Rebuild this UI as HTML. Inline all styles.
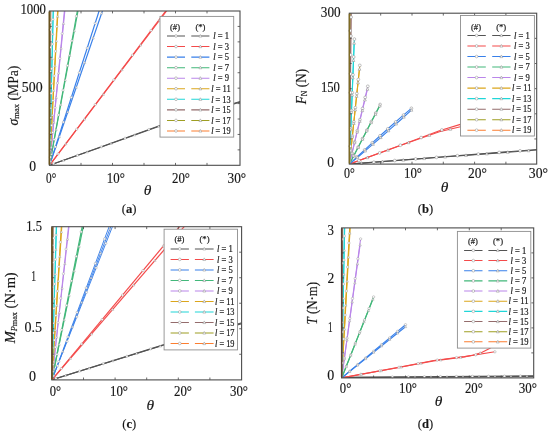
<!DOCTYPE html>
<html lang="en"><head><meta charset="utf-8"><title>Figure</title>
<style>html,body{margin:0;padding:0;background:#fff;}body{width:550px;height:436px;overflow:hidden;}svg text{font-family:'Liberation Serif','DejaVu Serif',serif;}</style>
</head><body>
<svg width="550" height="436" viewBox="0 0 550 436" style="display:block;font-family:'Liberation Serif','DejaVu Serif',serif">
<rect width="550" height="436" fill="#fff"/>
<clipPath id="ca"><rect x="49.40" y="11.00" width="190.60" height="154.30"/></clipPath>
<path d="M49.50 165.30L100.00 147.30L160.00 125.50L241.50 101.00" stroke="#545454" stroke-width="1.1" fill="none" stroke-linejoin="round" clip-path="url(#ca)"/>
<path d="M49.50 165.30L100.00 147.50L160.00 125.90L241.50 101.70" stroke="#545454" stroke-width="1.1" fill="none" stroke-linejoin="round" clip-path="url(#ca)"/>
<path d="M49.50 165.30L179.64 -7.52" stroke="#F44A4A" stroke-width="1.1" fill="none" stroke-linejoin="round" clip-path="url(#ca)"/>
<path d="M49.50 165.30L180.54 -7.52" stroke="#F44A4A" stroke-width="1.1" fill="none" stroke-linejoin="round" clip-path="url(#ca)"/>
<path d="M49.50 165.30L105.05 -7.52" stroke="#3880EA" stroke-width="1.2" fill="none" stroke-linejoin="round" clip-path="url(#ca)"/>
<path d="M49.50 165.30L108.75 -7.52" stroke="#3880EA" stroke-width="1.2" fill="none" stroke-linejoin="round" clip-path="url(#ca)"/>
<path d="M49.50 165.30L80.64 -7.52" stroke="#42B87A" stroke-width="1.1" fill="none" stroke-linejoin="round" clip-path="url(#ca)"/>
<path d="M49.50 165.30L81.42 -7.52" stroke="#42B87A" stroke-width="1.1" fill="none" stroke-linejoin="round" clip-path="url(#ca)"/>
<path d="M49.50 165.30L66.19 -7.52" stroke="#BA86EA" stroke-width="1.1" fill="none" stroke-linejoin="round" clip-path="url(#ca)"/>
<path d="M49.50 165.30L66.64 -7.52" stroke="#BA86EA" stroke-width="1.1" fill="none" stroke-linejoin="round" clip-path="url(#ca)"/>
<path d="M49.50 165.30L58.57 -7.52" stroke="#DCA61C" stroke-width="1.1" fill="none" stroke-linejoin="round" clip-path="url(#ca)"/>
<path d="M49.50 165.30L59.02 -7.52" stroke="#DCA61C" stroke-width="1.1" fill="none" stroke-linejoin="round" clip-path="url(#ca)"/>
<path d="M49.50 165.30L53.53 -7.52" stroke="#20D6D8" stroke-width="1.0" fill="none" stroke-linejoin="round" clip-path="url(#ca)"/>
<path d="M49.50 165.30L53.87 -7.52" stroke="#20D6D8" stroke-width="1.0" fill="none" stroke-linejoin="round" clip-path="url(#ca)"/>
<path d="M49.50 165.30L49.84 -7.52" stroke="#FC7E30" stroke-width="1.0" fill="none" stroke-linejoin="round" clip-path="url(#ca)"/>
<path d="M49.50 165.30L50.40 -7.52" stroke="#9E9E22" stroke-width="1.0" fill="none" stroke-linejoin="round" clip-path="url(#ca)"/>
<path d="M49.50 165.30L51.07 -7.52" stroke="#946C6C" stroke-width="0.8" fill="none" stroke-linejoin="round" clip-path="url(#ca)"/>
<circle cx="53.55" cy="163.85" r="1.15" fill="#fff" fill-opacity="0.95" stroke="#8a8a8a" stroke-opacity="0.8" stroke-width="0.45"/>
<circle cx="77.40" cy="155.35" r="1.15" fill="#fff" fill-opacity="0.95" stroke="#8a8a8a" stroke-opacity="0.8" stroke-width="0.45"/>
<circle cx="101.25" cy="146.85" r="1.15" fill="#fff" fill-opacity="0.95" stroke="#8a8a8a" stroke-opacity="0.8" stroke-width="0.45"/>
<circle cx="125.05" cy="138.20" r="1.15" fill="#fff" fill-opacity="0.95" stroke="#8a8a8a" stroke-opacity="0.8" stroke-width="0.45"/>
<circle cx="148.84" cy="129.55" r="1.15" fill="#fff" fill-opacity="0.95" stroke="#8a8a8a" stroke-opacity="0.8" stroke-width="0.45"/>
<circle cx="172.88" cy="121.63" r="1.15" fill="#fff" fill-opacity="0.95" stroke="#8a8a8a" stroke-opacity="0.8" stroke-width="0.45"/>
<circle cx="197.13" cy="114.34" r="1.15" fill="#fff" fill-opacity="0.95" stroke="#8a8a8a" stroke-opacity="0.8" stroke-width="0.45"/>
<circle cx="221.37" cy="107.05" r="1.15" fill="#fff" fill-opacity="0.95" stroke="#8a8a8a" stroke-opacity="0.8" stroke-width="0.45"/>
<path d="M63.33 159.16L64.48 161.34H62.18Z" fill="#fff" fill-opacity="0.95" stroke="#8a8a8a" stroke-opacity="0.8" stroke-width="0.45"/>
<path d="M87.19 150.75L88.34 152.94H86.04Z" fill="#fff" fill-opacity="0.95" stroke="#8a8a8a" stroke-opacity="0.8" stroke-width="0.45"/>
<path d="M111.01 142.27L112.16 144.45H109.86Z" fill="#fff" fill-opacity="0.95" stroke="#8a8a8a" stroke-opacity="0.8" stroke-width="0.45"/>
<path d="M134.81 133.70L135.96 135.89H133.66Z" fill="#fff" fill-opacity="0.95" stroke="#8a8a8a" stroke-opacity="0.8" stroke-width="0.45"/>
<path d="M158.61 125.14L159.76 127.32H157.46Z" fill="#fff" fill-opacity="0.95" stroke="#8a8a8a" stroke-opacity="0.8" stroke-width="0.45"/>
<path d="M182.83 117.86L183.98 120.04H181.68Z" fill="#fff" fill-opacity="0.95" stroke="#8a8a8a" stroke-opacity="0.8" stroke-width="0.45"/>
<path d="M207.07 110.66L208.22 112.84H205.92Z" fill="#fff" fill-opacity="0.95" stroke="#8a8a8a" stroke-opacity="0.8" stroke-width="0.45"/>
<path d="M231.32 103.46L232.47 105.64H230.17Z" fill="#fff" fill-opacity="0.95" stroke="#8a8a8a" stroke-opacity="0.8" stroke-width="0.45"/>
<circle cx="58.05" cy="153.94" r="1.15" fill="#fff" fill-opacity="0.95" stroke="#8a8a8a" stroke-opacity="0.8" stroke-width="0.45"/>
<circle cx="76.64" cy="129.26" r="1.15" fill="#fff" fill-opacity="0.95" stroke="#8a8a8a" stroke-opacity="0.8" stroke-width="0.45"/>
<circle cx="95.24" cy="104.57" r="1.15" fill="#fff" fill-opacity="0.95" stroke="#8a8a8a" stroke-opacity="0.8" stroke-width="0.45"/>
<circle cx="113.83" cy="79.88" r="1.15" fill="#fff" fill-opacity="0.95" stroke="#8a8a8a" stroke-opacity="0.8" stroke-width="0.45"/>
<circle cx="132.42" cy="55.19" r="1.15" fill="#fff" fill-opacity="0.95" stroke="#8a8a8a" stroke-opacity="0.8" stroke-width="0.45"/>
<circle cx="151.01" cy="30.50" r="1.15" fill="#fff" fill-opacity="0.95" stroke="#8a8a8a" stroke-opacity="0.8" stroke-width="0.45"/>
<path d="M65.79 142.56L66.94 144.74H64.64Z" fill="#fff" fill-opacity="0.95" stroke="#8a8a8a" stroke-opacity="0.8" stroke-width="0.45"/>
<path d="M84.51 117.87L85.66 120.05H83.36Z" fill="#fff" fill-opacity="0.95" stroke="#8a8a8a" stroke-opacity="0.8" stroke-width="0.45"/>
<path d="M103.23 93.18L104.38 95.37H102.08Z" fill="#fff" fill-opacity="0.95" stroke="#8a8a8a" stroke-opacity="0.8" stroke-width="0.45"/>
<path d="M121.95 68.49L123.10 70.68H120.80Z" fill="#fff" fill-opacity="0.95" stroke="#8a8a8a" stroke-opacity="0.8" stroke-width="0.45"/>
<path d="M140.67 43.80L141.82 45.99H139.52Z" fill="#fff" fill-opacity="0.95" stroke="#8a8a8a" stroke-opacity="0.8" stroke-width="0.45"/>
<path d="M159.39 19.12L160.54 21.30H158.24Z" fill="#fff" fill-opacity="0.95" stroke="#8a8a8a" stroke-opacity="0.8" stroke-width="0.45"/>
<circle cx="55.45" cy="146.78" r="1.15" fill="#fff" fill-opacity="0.95" stroke="#8a8a8a" stroke-opacity="0.8" stroke-width="0.45"/>
<circle cx="63.39" cy="122.10" r="1.15" fill="#fff" fill-opacity="0.95" stroke="#8a8a8a" stroke-opacity="0.8" stroke-width="0.45"/>
<circle cx="71.32" cy="97.41" r="1.15" fill="#fff" fill-opacity="0.95" stroke="#8a8a8a" stroke-opacity="0.8" stroke-width="0.45"/>
<circle cx="79.26" cy="72.72" r="1.15" fill="#fff" fill-opacity="0.95" stroke="#8a8a8a" stroke-opacity="0.8" stroke-width="0.45"/>
<circle cx="87.20" cy="48.03" r="1.15" fill="#fff" fill-opacity="0.95" stroke="#8a8a8a" stroke-opacity="0.8" stroke-width="0.45"/>
<circle cx="95.13" cy="23.34" r="1.15" fill="#fff" fill-opacity="0.95" stroke="#8a8a8a" stroke-opacity="0.8" stroke-width="0.45"/>
<path d="M50.85 160.08L52.00 162.27H49.70Z" fill="#fff" fill-opacity="0.95" stroke="#8a8a8a" stroke-opacity="0.8" stroke-width="0.45"/>
<path d="M59.32 135.40L60.47 137.58H58.17Z" fill="#fff" fill-opacity="0.95" stroke="#8a8a8a" stroke-opacity="0.8" stroke-width="0.45"/>
<path d="M67.78 110.71L68.93 112.89H66.63Z" fill="#fff" fill-opacity="0.95" stroke="#8a8a8a" stroke-opacity="0.8" stroke-width="0.45"/>
<path d="M76.25 86.02L77.40 88.21H75.10Z" fill="#fff" fill-opacity="0.95" stroke="#8a8a8a" stroke-opacity="0.8" stroke-width="0.45"/>
<path d="M84.71 61.33L85.86 63.52H83.56Z" fill="#fff" fill-opacity="0.95" stroke="#8a8a8a" stroke-opacity="0.8" stroke-width="0.45"/>
<path d="M93.17 36.64L94.32 38.83H92.02Z" fill="#fff" fill-opacity="0.95" stroke="#8a8a8a" stroke-opacity="0.8" stroke-width="0.45"/>
<path d="M101.64 11.96L102.79 14.14H100.49Z" fill="#fff" fill-opacity="0.95" stroke="#8a8a8a" stroke-opacity="0.8" stroke-width="0.45"/>
<circle cx="54.13" cy="139.62" r="1.15" fill="#fff" fill-opacity="0.95" stroke="#8a8a8a" stroke-opacity="0.8" stroke-width="0.45"/>
<circle cx="58.57" cy="114.94" r="1.15" fill="#fff" fill-opacity="0.95" stroke="#8a8a8a" stroke-opacity="0.8" stroke-width="0.45"/>
<circle cx="63.02" cy="90.25" r="1.15" fill="#fff" fill-opacity="0.95" stroke="#8a8a8a" stroke-opacity="0.8" stroke-width="0.45"/>
<circle cx="67.47" cy="65.56" r="1.15" fill="#fff" fill-opacity="0.95" stroke="#8a8a8a" stroke-opacity="0.8" stroke-width="0.45"/>
<circle cx="71.92" cy="40.87" r="1.15" fill="#fff" fill-opacity="0.95" stroke="#8a8a8a" stroke-opacity="0.8" stroke-width="0.45"/>
<circle cx="76.37" cy="16.18" r="1.15" fill="#fff" fill-opacity="0.95" stroke="#8a8a8a" stroke-opacity="0.8" stroke-width="0.45"/>
<path d="M51.55 152.93L52.70 155.11H50.40Z" fill="#fff" fill-opacity="0.95" stroke="#8a8a8a" stroke-opacity="0.8" stroke-width="0.45"/>
<path d="M56.11 128.24L57.26 130.42H54.96Z" fill="#fff" fill-opacity="0.95" stroke="#8a8a8a" stroke-opacity="0.8" stroke-width="0.45"/>
<path d="M60.67 103.55L61.82 105.73H59.52Z" fill="#fff" fill-opacity="0.95" stroke="#8a8a8a" stroke-opacity="0.8" stroke-width="0.45"/>
<path d="M65.23 78.86L66.38 81.05H64.08Z" fill="#fff" fill-opacity="0.95" stroke="#8a8a8a" stroke-opacity="0.8" stroke-width="0.45"/>
<path d="M69.79 54.17L70.94 56.36H68.64Z" fill="#fff" fill-opacity="0.95" stroke="#8a8a8a" stroke-opacity="0.8" stroke-width="0.45"/>
<path d="M74.35 29.49L75.50 31.67H73.20Z" fill="#fff" fill-opacity="0.95" stroke="#8a8a8a" stroke-opacity="0.8" stroke-width="0.45"/>
<circle cx="50.29" cy="157.15" r="1.15" fill="#fff" fill-opacity="0.95" stroke="#8a8a8a" stroke-opacity="0.8" stroke-width="0.45"/>
<circle cx="52.67" cy="132.46" r="1.15" fill="#fff" fill-opacity="0.95" stroke="#8a8a8a" stroke-opacity="0.8" stroke-width="0.45"/>
<circle cx="55.05" cy="107.78" r="1.15" fill="#fff" fill-opacity="0.95" stroke="#8a8a8a" stroke-opacity="0.8" stroke-width="0.45"/>
<circle cx="57.44" cy="83.09" r="1.15" fill="#fff" fill-opacity="0.95" stroke="#8a8a8a" stroke-opacity="0.8" stroke-width="0.45"/>
<circle cx="59.82" cy="58.40" r="1.15" fill="#fff" fill-opacity="0.95" stroke="#8a8a8a" stroke-opacity="0.8" stroke-width="0.45"/>
<circle cx="62.21" cy="33.71" r="1.15" fill="#fff" fill-opacity="0.95" stroke="#8a8a8a" stroke-opacity="0.8" stroke-width="0.45"/>
<path d="M51.31 145.77L52.46 147.95H50.16Z" fill="#fff" fill-opacity="0.95" stroke="#8a8a8a" stroke-opacity="0.8" stroke-width="0.45"/>
<path d="M53.76 121.08L54.91 123.26H52.61Z" fill="#fff" fill-opacity="0.95" stroke="#8a8a8a" stroke-opacity="0.8" stroke-width="0.45"/>
<path d="M56.21 96.39L57.36 98.57H55.06Z" fill="#fff" fill-opacity="0.95" stroke="#8a8a8a" stroke-opacity="0.8" stroke-width="0.45"/>
<path d="M58.66 71.70L59.81 73.89H57.51Z" fill="#fff" fill-opacity="0.95" stroke="#8a8a8a" stroke-opacity="0.8" stroke-width="0.45"/>
<path d="M61.10 47.01L62.25 49.20H59.95Z" fill="#fff" fill-opacity="0.95" stroke="#8a8a8a" stroke-opacity="0.8" stroke-width="0.45"/>
<path d="M63.55 22.33L64.70 24.51H62.40Z" fill="#fff" fill-opacity="0.95" stroke="#8a8a8a" stroke-opacity="0.8" stroke-width="0.45"/>
<circle cx="50.30" cy="149.99" r="1.15" fill="#fff" fill-opacity="0.95" stroke="#8a8a8a" stroke-opacity="0.8" stroke-width="0.45"/>
<circle cx="51.60" cy="125.31" r="1.15" fill="#fff" fill-opacity="0.95" stroke="#8a8a8a" stroke-opacity="0.8" stroke-width="0.45"/>
<circle cx="52.90" cy="100.62" r="1.15" fill="#fff" fill-opacity="0.95" stroke="#8a8a8a" stroke-opacity="0.8" stroke-width="0.45"/>
<circle cx="54.19" cy="75.93" r="1.15" fill="#fff" fill-opacity="0.95" stroke="#8a8a8a" stroke-opacity="0.8" stroke-width="0.45"/>
<circle cx="55.49" cy="51.24" r="1.15" fill="#fff" fill-opacity="0.95" stroke="#8a8a8a" stroke-opacity="0.8" stroke-width="0.45"/>
<circle cx="56.78" cy="26.55" r="1.15" fill="#fff" fill-opacity="0.95" stroke="#8a8a8a" stroke-opacity="0.8" stroke-width="0.45"/>
<path d="M50.90 138.61L52.05 140.79H49.75Z" fill="#fff" fill-opacity="0.95" stroke="#8a8a8a" stroke-opacity="0.8" stroke-width="0.45"/>
<path d="M52.26 113.92L53.41 116.10H51.11Z" fill="#fff" fill-opacity="0.95" stroke="#8a8a8a" stroke-opacity="0.8" stroke-width="0.45"/>
<path d="M53.62 89.23L54.77 91.42H52.47Z" fill="#fff" fill-opacity="0.95" stroke="#8a8a8a" stroke-opacity="0.8" stroke-width="0.45"/>
<path d="M54.98 64.54L56.13 66.73H53.83Z" fill="#fff" fill-opacity="0.95" stroke="#8a8a8a" stroke-opacity="0.8" stroke-width="0.45"/>
<path d="M56.34 39.85L57.49 42.04H55.19Z" fill="#fff" fill-opacity="0.95" stroke="#8a8a8a" stroke-opacity="0.8" stroke-width="0.45"/>
<path d="M57.70 15.17L58.85 17.35H56.55Z" fill="#fff" fill-opacity="0.95" stroke="#8a8a8a" stroke-opacity="0.8" stroke-width="0.45"/>
<circle cx="50.60" cy="118.15" r="1.15" fill="#fff" fill-opacity="0.95" stroke="#8a8a8a" stroke-opacity="0.8" stroke-width="0.45"/>
<circle cx="51.18" cy="93.46" r="1.15" fill="#fff" fill-opacity="0.95" stroke="#8a8a8a" stroke-opacity="0.8" stroke-width="0.45"/>
<circle cx="51.75" cy="68.77" r="1.15" fill="#fff" fill-opacity="0.95" stroke="#8a8a8a" stroke-opacity="0.8" stroke-width="0.45"/>
<circle cx="52.33" cy="44.08" r="1.15" fill="#fff" fill-opacity="0.95" stroke="#8a8a8a" stroke-opacity="0.8" stroke-width="0.45"/>
<circle cx="52.90" cy="19.39" r="1.15" fill="#fff" fill-opacity="0.95" stroke="#8a8a8a" stroke-opacity="0.8" stroke-width="0.45"/>
<path d="M50.32 131.45L51.47 133.63H49.17Z" fill="#fff" fill-opacity="0.95" stroke="#8a8a8a" stroke-opacity="0.8" stroke-width="0.45"/>
<path d="M50.95 106.76L52.10 108.94H49.80Z" fill="#fff" fill-opacity="0.95" stroke="#8a8a8a" stroke-opacity="0.8" stroke-width="0.45"/>
<path d="M51.57 82.07L52.72 84.26H50.42Z" fill="#fff" fill-opacity="0.95" stroke="#8a8a8a" stroke-opacity="0.8" stroke-width="0.45"/>
<path d="M52.20 57.38L53.35 59.57H51.05Z" fill="#fff" fill-opacity="0.95" stroke="#8a8a8a" stroke-opacity="0.8" stroke-width="0.45"/>
<path d="M52.82 32.69L53.97 34.88H51.67Z" fill="#fff" fill-opacity="0.95" stroke="#8a8a8a" stroke-opacity="0.8" stroke-width="0.45"/>
<circle cx="50.20" cy="29.76" r="1.15" fill="#fff" fill-opacity="0.95" stroke="#8a8a8a" stroke-opacity="0.8" stroke-width="0.45"/>
<circle cx="50.35" cy="71.98" r="1.15" fill="#fff" fill-opacity="0.95" stroke="#8a8a8a" stroke-opacity="0.8" stroke-width="0.45"/>
<circle cx="50.57" cy="47.29" r="1.15" fill="#fff" fill-opacity="0.95" stroke="#8a8a8a" stroke-opacity="0.8" stroke-width="0.45"/>
<circle cx="50.79" cy="22.60" r="1.15" fill="#fff" fill-opacity="0.95" stroke="#8a8a8a" stroke-opacity="0.8" stroke-width="0.45"/>
<path d="M81.00 165.30v-2.4M81.00 11.00v2.4M112.50 165.30v-2.4M112.50 11.00v2.4M144.00 165.30v-2.4M144.00 11.00v2.4M175.50 165.30v-2.4M175.50 11.00v2.4M207.00 165.30v-2.4M207.00 11.00v2.4M49.40 149.87h2.4M240.00 149.87h-2.4M49.40 134.44h2.4M240.00 134.44h-2.4M49.40 119.01h2.4M240.00 119.01h-2.4M49.40 103.58h2.4M240.00 103.58h-2.4M49.40 88.15h2.4M240.00 88.15h-2.4M49.40 72.72h2.4M240.00 72.72h-2.4M49.40 57.29h2.4M240.00 57.29h-2.4M49.40 41.86h2.4M240.00 41.86h-2.4M49.40 26.43h2.4M240.00 26.43h-2.4" stroke="#444" stroke-width="0.8" fill="none"/>
<rect x="49.40" y="11.00" width="190.60" height="154.30" fill="none" stroke="#4c4c4c" stroke-width="1.1"/>
<path d="M49.3 11.60V164.70" stroke="#6c5218" stroke-width="1.5" stroke-opacity="0.9"/>
<rect x="160.00" y="16.40" width="73.70" height="120.70" fill="#fff" stroke="#8e8e8e" stroke-width="0.9"/>
<text x="175.00" y="29.50" font-size="8.6" fill="#222" text-anchor="middle" stroke="#222" stroke-width="0.2">(#)</text>
<text x="200.40" y="29.50" font-size="8.6" fill="#222" text-anchor="middle" stroke="#222" stroke-width="0.2">(*)</text>
<path d="M167.00 36.00H185.00M191.30 36.00H209.40" stroke="#545454" stroke-width="1.05" fill="none"/>
<circle cx="176.00" cy="36.00" r="1.35" fill="#fff" fill-opacity="1.0" stroke="#8a8a8a" stroke-opacity="0.9" stroke-width="0.55"/>
<path d="M200.35 34.46L201.75 37.12H198.95Z" fill="#fff" fill-opacity="1.0" stroke="#8a8a8a" stroke-opacity="0.9" stroke-width="0.55"/>
<text x="213.20" y="39.20" font-size="10.2" fill="#1c1c1c" stroke="#1c1c1c" stroke-width="0.22" textLength="15.8" lengthAdjust="spacingAndGlyphs"><tspan font-style="italic">l</tspan> = 1</text>
<path d="M167.00 46.55H185.00M191.30 46.55H209.40" stroke="#F44A4A" stroke-width="1.05" fill="none"/>
<circle cx="176.00" cy="46.55" r="1.35" fill="#fff" fill-opacity="1.0" stroke="#8a8a8a" stroke-opacity="0.9" stroke-width="0.55"/>
<path d="M200.35 45.01L201.75 47.67H198.95Z" fill="#fff" fill-opacity="1.0" stroke="#8a8a8a" stroke-opacity="0.9" stroke-width="0.55"/>
<text x="213.20" y="49.75" font-size="10.2" fill="#1c1c1c" stroke="#1c1c1c" stroke-width="0.22" textLength="15.8" lengthAdjust="spacingAndGlyphs"><tspan font-style="italic">l</tspan> = 3</text>
<path d="M167.00 57.10H185.00M191.30 57.10H209.40" stroke="#3880EA" stroke-width="1.05" fill="none"/>
<circle cx="176.00" cy="57.10" r="1.35" fill="#fff" fill-opacity="1.0" stroke="#8a8a8a" stroke-opacity="0.9" stroke-width="0.55"/>
<path d="M200.35 55.56L201.75 58.22H198.95Z" fill="#fff" fill-opacity="1.0" stroke="#8a8a8a" stroke-opacity="0.9" stroke-width="0.55"/>
<text x="213.20" y="60.30" font-size="10.2" fill="#1c1c1c" stroke="#1c1c1c" stroke-width="0.22" textLength="15.8" lengthAdjust="spacingAndGlyphs"><tspan font-style="italic">l</tspan> = 5</text>
<path d="M167.00 67.65H185.00M191.30 67.65H209.40" stroke="#42B87A" stroke-width="1.05" fill="none"/>
<circle cx="176.00" cy="67.65" r="1.35" fill="#fff" fill-opacity="1.0" stroke="#8a8a8a" stroke-opacity="0.9" stroke-width="0.55"/>
<path d="M200.35 66.11L201.75 68.77H198.95Z" fill="#fff" fill-opacity="1.0" stroke="#8a8a8a" stroke-opacity="0.9" stroke-width="0.55"/>
<text x="213.20" y="70.85" font-size="10.2" fill="#1c1c1c" stroke="#1c1c1c" stroke-width="0.22" textLength="15.8" lengthAdjust="spacingAndGlyphs"><tspan font-style="italic">l</tspan> = 7</text>
<path d="M167.00 78.20H185.00M191.30 78.20H209.40" stroke="#BA86EA" stroke-width="1.05" fill="none"/>
<circle cx="176.00" cy="78.20" r="1.35" fill="#fff" fill-opacity="1.0" stroke="#8a8a8a" stroke-opacity="0.9" stroke-width="0.55"/>
<path d="M200.35 76.66L201.75 79.32H198.95Z" fill="#fff" fill-opacity="1.0" stroke="#8a8a8a" stroke-opacity="0.9" stroke-width="0.55"/>
<text x="213.20" y="81.40" font-size="10.2" fill="#1c1c1c" stroke="#1c1c1c" stroke-width="0.22" textLength="15.8" lengthAdjust="spacingAndGlyphs"><tspan font-style="italic">l</tspan> = 9</text>
<path d="M167.00 88.75H185.00M191.30 88.75H209.40" stroke="#DCA61C" stroke-width="1.05" fill="none"/>
<circle cx="176.00" cy="88.75" r="1.35" fill="#fff" fill-opacity="1.0" stroke="#8a8a8a" stroke-opacity="0.9" stroke-width="0.55"/>
<path d="M200.35 87.21L201.75 89.87H198.95Z" fill="#fff" fill-opacity="1.0" stroke="#8a8a8a" stroke-opacity="0.9" stroke-width="0.55"/>
<text x="211.20" y="91.95" font-size="10.2" fill="#1c1c1c" stroke="#1c1c1c" stroke-width="0.22" textLength="19.5" lengthAdjust="spacingAndGlyphs"><tspan font-style="italic">l</tspan> = 11</text>
<path d="M167.00 99.30H185.00M191.30 99.30H209.40" stroke="#20D6D8" stroke-width="1.05" fill="none"/>
<circle cx="176.00" cy="99.30" r="1.35" fill="#fff" fill-opacity="1.0" stroke="#8a8a8a" stroke-opacity="0.9" stroke-width="0.55"/>
<path d="M200.35 97.76L201.75 100.42H198.95Z" fill="#fff" fill-opacity="1.0" stroke="#8a8a8a" stroke-opacity="0.9" stroke-width="0.55"/>
<text x="211.20" y="102.50" font-size="10.2" fill="#1c1c1c" stroke="#1c1c1c" stroke-width="0.22" textLength="19.5" lengthAdjust="spacingAndGlyphs"><tspan font-style="italic">l</tspan> = 13</text>
<path d="M167.00 109.85H185.00M191.30 109.85H209.40" stroke="#946C6C" stroke-width="1.05" fill="none"/>
<circle cx="176.00" cy="109.85" r="1.35" fill="#fff" fill-opacity="1.0" stroke="#8a8a8a" stroke-opacity="0.9" stroke-width="0.55"/>
<path d="M200.35 108.31L201.75 110.97H198.95Z" fill="#fff" fill-opacity="1.0" stroke="#8a8a8a" stroke-opacity="0.9" stroke-width="0.55"/>
<text x="211.20" y="113.05" font-size="10.2" fill="#1c1c1c" stroke="#1c1c1c" stroke-width="0.22" textLength="19.5" lengthAdjust="spacingAndGlyphs"><tspan font-style="italic">l</tspan> = 15</text>
<path d="M167.00 120.40H185.00M191.30 120.40H209.40" stroke="#9E9E22" stroke-width="1.05" fill="none"/>
<circle cx="176.00" cy="120.40" r="1.35" fill="#fff" fill-opacity="1.0" stroke="#8a8a8a" stroke-opacity="0.9" stroke-width="0.55"/>
<path d="M200.35 118.86L201.75 121.52H198.95Z" fill="#fff" fill-opacity="1.0" stroke="#8a8a8a" stroke-opacity="0.9" stroke-width="0.55"/>
<text x="211.20" y="123.60" font-size="10.2" fill="#1c1c1c" stroke="#1c1c1c" stroke-width="0.22" textLength="19.5" lengthAdjust="spacingAndGlyphs"><tspan font-style="italic">l</tspan> = 17</text>
<path d="M167.00 130.95H185.00M191.30 130.95H209.40" stroke="#FC7E30" stroke-width="1.05" fill="none"/>
<circle cx="176.00" cy="130.95" r="1.35" fill="#fff" fill-opacity="1.0" stroke="#8a8a8a" stroke-opacity="0.9" stroke-width="0.55"/>
<path d="M200.35 129.41L201.75 132.07H198.95Z" fill="#fff" fill-opacity="1.0" stroke="#8a8a8a" stroke-opacity="0.9" stroke-width="0.55"/>
<text x="211.20" y="134.15" font-size="10.2" fill="#1c1c1c" stroke="#1c1c1c" stroke-width="0.22" textLength="19.5" lengthAdjust="spacingAndGlyphs"><tspan font-style="italic">l</tspan> = 19</text>
<text x="20.40" y="14.00" font-size="14" fill="#161616" textLength="25.50" lengthAdjust="spacingAndGlyphs" stroke="#161616" stroke-width="0.15">1000</text>
<text x="21.80" y="91.80" font-size="14" fill="#161616" textLength="20.80" lengthAdjust="spacingAndGlyphs" stroke="#161616" stroke-width="0.15">500</text>
<text x="29.30" y="171.00" font-size="14" fill="#161616" textLength="6.80" lengthAdjust="spacingAndGlyphs" stroke="#161616" stroke-width="0.15">0</text>
<text x="46.00" y="182.60" font-size="14" fill="#161616" textLength="10.20" lengthAdjust="spacingAndGlyphs" stroke="#161616" stroke-width="0.15">0°</text>
<text x="106.80" y="182.60" font-size="14" fill="#161616" textLength="18.00" lengthAdjust="spacingAndGlyphs" stroke="#161616" stroke-width="0.15">10°</text>
<text x="172.00" y="182.60" font-size="14" fill="#161616" textLength="18.00" lengthAdjust="spacingAndGlyphs" stroke="#161616" stroke-width="0.15">20°</text>
<text x="227.60" y="182.60" font-size="14" fill="#161616" textLength="18.60" lengthAdjust="spacingAndGlyphs" stroke="#161616" stroke-width="0.15">30°</text>
<text x="17.8" y="125.6" font-size="14" fill="#161616" stroke="#161616" stroke-width="0.15" transform="rotate(-90 17.8 125.6)" textLength="60" lengthAdjust="spacingAndGlyphs"><tspan font-style="italic">σ</tspan><tspan font-size="9" dy="1.4">max</tspan><tspan dy="-1.4"> (MPa)</tspan></text>
<text x="147.50" y="194.50" font-size="15.5" fill="#161616" text-anchor="middle" font-style="italic" stroke="#161616" stroke-width="0.15">θ</text>
<text x="129.10" y="212.80" font-size="12.6" fill="#161616" text-anchor="middle" stroke="#161616" stroke-width="0.12">(<tspan font-weight="bold">a</tspan>)</text>
<clipPath id="cb"><rect x="349.30" y="13.20" width="187.40" height="150.90"/></clipPath>
<path d="M349.40 164.10L380.73 161.67L412.07 159.23L443.40 156.80L474.73 154.37L506.07 151.93L537.40 149.50" stroke="#545454" stroke-width="1.15" fill="none" stroke-linejoin="round" clip-path="url(#cb)"/>
<path d="M349.40 164.10L380.73 161.75L412.07 159.40L443.40 157.05L474.73 154.70L506.07 152.35L537.40 150.00" stroke="#545454" stroke-width="1.15" fill="none" stroke-linejoin="round" clip-path="url(#cb)"/>
<path d="M349.40 164.10L409.40 141.90L439.40 130.70L460.40 124.40L474.40 120.10" stroke="#F44A4A" stroke-width="1.1" fill="none" stroke-linejoin="round" clip-path="url(#cb)"/>
<path d="M349.40 164.10L409.40 142.30L439.40 131.70L460.40 126.80L474.40 123.60" stroke="#F44A4A" stroke-width="1.1" fill="none" stroke-linejoin="round" clip-path="url(#cb)"/>
<path d="M349.40 164.10L359.73 154.41L370.07 144.88L380.40 135.50L390.73 126.28L401.07 117.21L411.40 108.30" stroke="#3880EA" stroke-width="1.1" fill="none" stroke-linejoin="round" clip-path="url(#cb)"/>
<path d="M349.40 164.10L359.73 155.47L370.07 146.70L380.40 137.78L390.73 128.70L401.07 119.47L411.40 110.10" stroke="#3880EA" stroke-width="1.1" fill="none" stroke-linejoin="round" clip-path="url(#cb)"/>
<path d="M349.40 164.10L354.52 154.17L359.63 144.23L364.75 134.30L369.87 124.37L374.98 114.43L380.10 104.50" stroke="#42B87A" stroke-width="1.1" fill="none" stroke-linejoin="round" clip-path="url(#cb)"/>
<path d="M349.40 164.10L354.47 154.40L359.53 144.70L364.60 135.00L369.67 125.30L374.73 115.60L379.80 105.90" stroke="#42B87A" stroke-width="1.1" fill="none" stroke-linejoin="round" clip-path="url(#cb)"/>
<path d="M349.40 164.10L352.47 151.13L355.53 138.17L358.60 125.20L361.67 112.23L364.73 99.27L367.80 86.30" stroke="#BA86EA" stroke-width="1.1" fill="none" stroke-linejoin="round" clip-path="url(#cb)"/>
<path d="M349.40 164.10L352.42 151.60L355.43 139.10L358.45 126.60L361.47 114.10L364.48 101.60L367.50 89.10" stroke="#BA86EA" stroke-width="1.1" fill="none" stroke-linejoin="round" clip-path="url(#cb)"/>
<path d="M349.40 164.10L351.13 147.65L352.87 131.20L354.60 114.75L356.33 98.30L358.07 81.85L359.80 65.40" stroke="#DCA61C" stroke-width="1.1" fill="none" stroke-linejoin="round" clip-path="url(#cb)"/>
<path d="M349.40 164.10L351.08 148.27L352.77 132.43L354.45 116.60L356.13 100.77L357.82 84.93L359.50 69.10" stroke="#DCA61C" stroke-width="1.1" fill="none" stroke-linejoin="round" clip-path="url(#cb)"/>
<path d="M349.40 164.10L350.23 143.27L351.07 122.43L351.90 101.60L352.73 80.77L353.57 59.93L354.40 39.10" stroke="#20D6D8" stroke-width="1.1" fill="none" stroke-linejoin="round" clip-path="url(#cb)"/>
<path d="M349.40 164.10L350.18 143.93L350.97 123.77L351.75 103.60L352.53 83.43L353.32 63.27L354.10 43.10" stroke="#20D6D8" stroke-width="1.1" fill="none" stroke-linejoin="round" clip-path="url(#cb)"/>
<path d="M349.40 164.10L349.45 135.77L349.50 107.43L349.55 79.10L349.60 50.77L349.65 22.43L349.70 -5.90" stroke="#FC7E30" stroke-width="1.0" fill="none" stroke-linejoin="round" clip-path="url(#cb)"/>
<path d="M349.40 164.10L349.55 135.77L349.70 107.43L349.85 79.10L350.00 50.77L350.15 22.43L350.30 -5.90" stroke="#9E9E22" stroke-width="1.2" fill="none" stroke-linejoin="round" clip-path="url(#cb)"/>
<path d="M349.40 164.10L349.73 135.77L350.07 107.43L350.40 79.10L350.73 50.77L351.07 22.43L351.40 -5.90" stroke="#946C6C" stroke-width="1.3" fill="none" stroke-linejoin="round" clip-path="url(#cb)"/>
<circle cx="373.84" cy="162.20" r="1.4" fill="#fff" fill-opacity="1.0" stroke="#8a8a8a" stroke-opacity="0.95" stroke-width="0.55"/>
<circle cx="394.73" cy="160.58" r="1.4" fill="#fff" fill-opacity="1.0" stroke="#8a8a8a" stroke-opacity="0.95" stroke-width="0.55"/>
<circle cx="415.62" cy="158.96" r="1.4" fill="#fff" fill-opacity="1.0" stroke="#8a8a8a" stroke-opacity="0.95" stroke-width="0.55"/>
<circle cx="436.51" cy="157.34" r="1.4" fill="#fff" fill-opacity="1.0" stroke="#8a8a8a" stroke-opacity="0.95" stroke-width="0.55"/>
<circle cx="457.40" cy="155.71" r="1.4" fill="#fff" fill-opacity="1.0" stroke="#8a8a8a" stroke-opacity="0.95" stroke-width="0.55"/>
<circle cx="478.28" cy="154.09" r="1.4" fill="#fff" fill-opacity="1.0" stroke="#8a8a8a" stroke-opacity="0.95" stroke-width="0.55"/>
<circle cx="499.17" cy="152.47" r="1.4" fill="#fff" fill-opacity="1.0" stroke="#8a8a8a" stroke-opacity="0.95" stroke-width="0.55"/>
<circle cx="520.06" cy="150.85" r="1.4" fill="#fff" fill-opacity="1.0" stroke="#8a8a8a" stroke-opacity="0.95" stroke-width="0.55"/>
<path d="M361.52 161.65L362.92 164.31H360.12Z" fill="#fff" fill-opacity="1.0" stroke="#8a8a8a" stroke-opacity="0.95" stroke-width="0.55"/>
<path d="M382.40 160.08L383.80 162.74H381.00Z" fill="#fff" fill-opacity="1.0" stroke="#8a8a8a" stroke-opacity="0.95" stroke-width="0.55"/>
<path d="M403.29 158.52L404.69 161.18H401.89Z" fill="#fff" fill-opacity="1.0" stroke="#8a8a8a" stroke-opacity="0.95" stroke-width="0.55"/>
<path d="M424.18 156.95L425.58 159.61H422.78Z" fill="#fff" fill-opacity="1.0" stroke="#8a8a8a" stroke-opacity="0.95" stroke-width="0.55"/>
<path d="M445.07 155.38L446.47 158.04H443.67Z" fill="#fff" fill-opacity="1.0" stroke="#8a8a8a" stroke-opacity="0.95" stroke-width="0.55"/>
<path d="M465.96 153.82L467.36 156.48H464.56Z" fill="#fff" fill-opacity="1.0" stroke="#8a8a8a" stroke-opacity="0.95" stroke-width="0.55"/>
<path d="M486.85 152.25L488.25 154.91H485.45Z" fill="#fff" fill-opacity="1.0" stroke="#8a8a8a" stroke-opacity="0.95" stroke-width="0.55"/>
<path d="M507.74 150.68L509.14 153.34H506.34Z" fill="#fff" fill-opacity="1.0" stroke="#8a8a8a" stroke-opacity="0.95" stroke-width="0.55"/>
<path d="M528.63 149.12L530.03 151.78H527.23Z" fill="#fff" fill-opacity="1.0" stroke="#8a8a8a" stroke-opacity="0.95" stroke-width="0.55"/>
<circle cx="358.93" cy="160.57" r="1.4" fill="#fff" fill-opacity="1.0" stroke="#8a8a8a" stroke-opacity="0.95" stroke-width="0.55"/>
<circle cx="379.65" cy="152.91" r="1.4" fill="#fff" fill-opacity="1.0" stroke="#8a8a8a" stroke-opacity="0.95" stroke-width="0.55"/>
<circle cx="400.38" cy="145.24" r="1.4" fill="#fff" fill-opacity="1.0" stroke="#8a8a8a" stroke-opacity="0.95" stroke-width="0.55"/>
<circle cx="421.08" cy="137.54" r="1.4" fill="#fff" fill-opacity="1.0" stroke="#8a8a8a" stroke-opacity="0.95" stroke-width="0.55"/>
<circle cx="441.84" cy="129.97" r="1.4" fill="#fff" fill-opacity="1.0" stroke="#8a8a8a" stroke-opacity="0.95" stroke-width="0.55"/>
<circle cx="462.99" cy="123.60" r="1.4" fill="#fff" fill-opacity="1.0" stroke="#8a8a8a" stroke-opacity="0.95" stroke-width="0.55"/>
<path d="M367.33 156.04L368.73 158.70H365.93Z" fill="#fff" fill-opacity="1.0" stroke="#8a8a8a" stroke-opacity="0.95" stroke-width="0.55"/>
<path d="M387.94 148.56L389.34 151.22H386.54Z" fill="#fff" fill-opacity="1.0" stroke="#8a8a8a" stroke-opacity="0.95" stroke-width="0.55"/>
<path d="M408.56 141.07L409.96 143.73H407.16Z" fill="#fff" fill-opacity="1.0" stroke="#8a8a8a" stroke-opacity="0.95" stroke-width="0.55"/>
<path d="M429.23 133.75L430.63 136.41H427.83Z" fill="#fff" fill-opacity="1.0" stroke="#8a8a8a" stroke-opacity="0.95" stroke-width="0.55"/>
<path d="M450.25 127.63L451.65 130.29H448.85Z" fill="#fff" fill-opacity="1.0" stroke="#8a8a8a" stroke-opacity="0.95" stroke-width="0.55"/>
<path d="M471.62 122.70L473.02 125.36H470.22Z" fill="#fff" fill-opacity="1.0" stroke="#8a8a8a" stroke-opacity="0.95" stroke-width="0.55"/>
<circle cx="357.01" cy="156.97" r="1.4" fill="#fff" fill-opacity="1.0" stroke="#8a8a8a" stroke-opacity="0.95" stroke-width="0.55"/>
<circle cx="364.65" cy="149.88" r="1.4" fill="#fff" fill-opacity="1.0" stroke="#8a8a8a" stroke-opacity="0.95" stroke-width="0.55"/>
<circle cx="372.33" cy="142.82" r="1.4" fill="#fff" fill-opacity="1.0" stroke="#8a8a8a" stroke-opacity="0.95" stroke-width="0.55"/>
<circle cx="380.05" cy="135.82" r="1.4" fill="#fff" fill-opacity="1.0" stroke="#8a8a8a" stroke-opacity="0.95" stroke-width="0.55"/>
<circle cx="387.83" cy="128.87" r="1.4" fill="#fff" fill-opacity="1.0" stroke="#8a8a8a" stroke-opacity="0.95" stroke-width="0.55"/>
<circle cx="395.65" cy="121.97" r="1.4" fill="#fff" fill-opacity="1.0" stroke="#8a8a8a" stroke-opacity="0.95" stroke-width="0.55"/>
<circle cx="403.50" cy="115.11" r="1.4" fill="#fff" fill-opacity="1.0" stroke="#8a8a8a" stroke-opacity="0.95" stroke-width="0.55"/>
<circle cx="411.40" cy="108.30" r="1.4" fill="#fff" fill-opacity="1.0" stroke="#8a8a8a" stroke-opacity="0.95" stroke-width="0.55"/>
<path d="M357.29 155.97L358.69 158.63H355.89Z" fill="#fff" fill-opacity="1.0" stroke="#8a8a8a" stroke-opacity="0.95" stroke-width="0.55"/>
<path d="M365.14 149.34L366.54 152.00H363.74Z" fill="#fff" fill-opacity="1.0" stroke="#8a8a8a" stroke-opacity="0.95" stroke-width="0.55"/>
<path d="M372.96 142.66L374.36 145.32H371.56Z" fill="#fff" fill-opacity="1.0" stroke="#8a8a8a" stroke-opacity="0.95" stroke-width="0.55"/>
<path d="M380.73 135.94L382.13 138.60H379.33Z" fill="#fff" fill-opacity="1.0" stroke="#8a8a8a" stroke-opacity="0.95" stroke-width="0.55"/>
<path d="M388.46 129.16L389.86 131.82H387.06Z" fill="#fff" fill-opacity="1.0" stroke="#8a8a8a" stroke-opacity="0.95" stroke-width="0.55"/>
<path d="M396.14 122.33L397.54 124.99H394.74Z" fill="#fff" fill-opacity="1.0" stroke="#8a8a8a" stroke-opacity="0.95" stroke-width="0.55"/>
<path d="M403.79 115.47L405.19 118.13H402.39Z" fill="#fff" fill-opacity="1.0" stroke="#8a8a8a" stroke-opacity="0.95" stroke-width="0.55"/>
<path d="M411.40 108.56L412.80 111.22H410.00Z" fill="#fff" fill-opacity="1.0" stroke="#8a8a8a" stroke-opacity="0.95" stroke-width="0.55"/>
<circle cx="353.79" cy="155.59" r="1.4" fill="#fff" fill-opacity="1.0" stroke="#8a8a8a" stroke-opacity="0.95" stroke-width="0.55"/>
<circle cx="358.17" cy="147.07" r="1.4" fill="#fff" fill-opacity="1.0" stroke="#8a8a8a" stroke-opacity="0.95" stroke-width="0.55"/>
<circle cx="362.56" cy="138.56" r="1.4" fill="#fff" fill-opacity="1.0" stroke="#8a8a8a" stroke-opacity="0.95" stroke-width="0.55"/>
<circle cx="366.94" cy="130.04" r="1.4" fill="#fff" fill-opacity="1.0" stroke="#8a8a8a" stroke-opacity="0.95" stroke-width="0.55"/>
<circle cx="371.33" cy="121.53" r="1.4" fill="#fff" fill-opacity="1.0" stroke="#8a8a8a" stroke-opacity="0.95" stroke-width="0.55"/>
<circle cx="375.71" cy="113.01" r="1.4" fill="#fff" fill-opacity="1.0" stroke="#8a8a8a" stroke-opacity="0.95" stroke-width="0.55"/>
<circle cx="380.10" cy="104.50" r="1.4" fill="#fff" fill-opacity="1.0" stroke="#8a8a8a" stroke-opacity="0.95" stroke-width="0.55"/>
<path d="M353.74 154.25L355.14 156.91H352.34Z" fill="#fff" fill-opacity="1.0" stroke="#8a8a8a" stroke-opacity="0.95" stroke-width="0.55"/>
<path d="M358.09 145.93L359.49 148.59H356.69Z" fill="#fff" fill-opacity="1.0" stroke="#8a8a8a" stroke-opacity="0.95" stroke-width="0.55"/>
<path d="M362.43 137.62L363.83 140.28H361.03Z" fill="#fff" fill-opacity="1.0" stroke="#8a8a8a" stroke-opacity="0.95" stroke-width="0.55"/>
<path d="M366.77 129.30L368.17 131.96H365.37Z" fill="#fff" fill-opacity="1.0" stroke="#8a8a8a" stroke-opacity="0.95" stroke-width="0.55"/>
<path d="M371.11 120.99L372.51 123.65H369.71Z" fill="#fff" fill-opacity="1.0" stroke="#8a8a8a" stroke-opacity="0.95" stroke-width="0.55"/>
<path d="M375.46 112.67L376.86 115.33H374.06Z" fill="#fff" fill-opacity="1.0" stroke="#8a8a8a" stroke-opacity="0.95" stroke-width="0.55"/>
<path d="M379.80 104.36L381.20 107.02H378.40Z" fill="#fff" fill-opacity="1.0" stroke="#8a8a8a" stroke-opacity="0.95" stroke-width="0.55"/>
<circle cx="352.03" cy="152.99" r="1.4" fill="#fff" fill-opacity="1.0" stroke="#8a8a8a" stroke-opacity="0.95" stroke-width="0.55"/>
<circle cx="354.66" cy="141.87" r="1.4" fill="#fff" fill-opacity="1.0" stroke="#8a8a8a" stroke-opacity="0.95" stroke-width="0.55"/>
<circle cx="357.29" cy="130.76" r="1.4" fill="#fff" fill-opacity="1.0" stroke="#8a8a8a" stroke-opacity="0.95" stroke-width="0.55"/>
<circle cx="359.91" cy="119.64" r="1.4" fill="#fff" fill-opacity="1.0" stroke="#8a8a8a" stroke-opacity="0.95" stroke-width="0.55"/>
<circle cx="362.54" cy="108.53" r="1.4" fill="#fff" fill-opacity="1.0" stroke="#8a8a8a" stroke-opacity="0.95" stroke-width="0.55"/>
<circle cx="365.17" cy="97.41" r="1.4" fill="#fff" fill-opacity="1.0" stroke="#8a8a8a" stroke-opacity="0.95" stroke-width="0.55"/>
<circle cx="367.80" cy="86.30" r="1.4" fill="#fff" fill-opacity="1.0" stroke="#8a8a8a" stroke-opacity="0.95" stroke-width="0.55"/>
<path d="M351.99 151.85L353.39 154.51H350.59Z" fill="#fff" fill-opacity="1.0" stroke="#8a8a8a" stroke-opacity="0.95" stroke-width="0.55"/>
<path d="M354.57 141.13L355.97 143.79H353.17Z" fill="#fff" fill-opacity="1.0" stroke="#8a8a8a" stroke-opacity="0.95" stroke-width="0.55"/>
<path d="M357.16 130.42L358.56 133.08H355.76Z" fill="#fff" fill-opacity="1.0" stroke="#8a8a8a" stroke-opacity="0.95" stroke-width="0.55"/>
<path d="M359.74 119.70L361.14 122.36H358.34Z" fill="#fff" fill-opacity="1.0" stroke="#8a8a8a" stroke-opacity="0.95" stroke-width="0.55"/>
<path d="M362.33 108.99L363.73 111.65H360.93Z" fill="#fff" fill-opacity="1.0" stroke="#8a8a8a" stroke-opacity="0.95" stroke-width="0.55"/>
<path d="M364.91 98.27L366.31 100.93H363.51Z" fill="#fff" fill-opacity="1.0" stroke="#8a8a8a" stroke-opacity="0.95" stroke-width="0.55"/>
<path d="M367.50 87.56L368.90 90.22H366.10Z" fill="#fff" fill-opacity="1.0" stroke="#8a8a8a" stroke-opacity="0.95" stroke-width="0.55"/>
<circle cx="350.89" cy="150.00" r="1.4" fill="#fff" fill-opacity="1.0" stroke="#8a8a8a" stroke-opacity="0.95" stroke-width="0.55"/>
<circle cx="352.37" cy="135.90" r="1.4" fill="#fff" fill-opacity="1.0" stroke="#8a8a8a" stroke-opacity="0.95" stroke-width="0.55"/>
<circle cx="353.86" cy="121.80" r="1.4" fill="#fff" fill-opacity="1.0" stroke="#8a8a8a" stroke-opacity="0.95" stroke-width="0.55"/>
<circle cx="355.34" cy="107.70" r="1.4" fill="#fff" fill-opacity="1.0" stroke="#8a8a8a" stroke-opacity="0.95" stroke-width="0.55"/>
<circle cx="356.83" cy="93.60" r="1.4" fill="#fff" fill-opacity="1.0" stroke="#8a8a8a" stroke-opacity="0.95" stroke-width="0.55"/>
<circle cx="358.31" cy="79.50" r="1.4" fill="#fff" fill-opacity="1.0" stroke="#8a8a8a" stroke-opacity="0.95" stroke-width="0.55"/>
<circle cx="359.80" cy="65.40" r="1.4" fill="#fff" fill-opacity="1.0" stroke="#8a8a8a" stroke-opacity="0.95" stroke-width="0.55"/>
<path d="M350.84 148.99L352.24 151.65H349.44Z" fill="#fff" fill-opacity="1.0" stroke="#8a8a8a" stroke-opacity="0.95" stroke-width="0.55"/>
<path d="M352.29 135.42L353.69 138.08H350.89Z" fill="#fff" fill-opacity="1.0" stroke="#8a8a8a" stroke-opacity="0.95" stroke-width="0.55"/>
<path d="M353.73 121.85L355.13 124.51H352.33Z" fill="#fff" fill-opacity="1.0" stroke="#8a8a8a" stroke-opacity="0.95" stroke-width="0.55"/>
<path d="M355.17 108.27L356.57 110.93H353.77Z" fill="#fff" fill-opacity="1.0" stroke="#8a8a8a" stroke-opacity="0.95" stroke-width="0.55"/>
<path d="M356.61 94.70L358.01 97.36H355.21Z" fill="#fff" fill-opacity="1.0" stroke="#8a8a8a" stroke-opacity="0.95" stroke-width="0.55"/>
<path d="M358.06 81.13L359.46 83.79H356.66Z" fill="#fff" fill-opacity="1.0" stroke="#8a8a8a" stroke-opacity="0.95" stroke-width="0.55"/>
<path d="M359.50 67.56L360.90 70.22H358.10Z" fill="#fff" fill-opacity="1.0" stroke="#8a8a8a" stroke-opacity="0.95" stroke-width="0.55"/>
<circle cx="350.11" cy="146.24" r="1.4" fill="#fff" fill-opacity="1.0" stroke="#8a8a8a" stroke-opacity="0.95" stroke-width="0.55"/>
<circle cx="350.83" cy="128.39" r="1.4" fill="#fff" fill-opacity="1.0" stroke="#8a8a8a" stroke-opacity="0.95" stroke-width="0.55"/>
<circle cx="351.54" cy="110.53" r="1.4" fill="#fff" fill-opacity="1.0" stroke="#8a8a8a" stroke-opacity="0.95" stroke-width="0.55"/>
<circle cx="352.26" cy="92.67" r="1.4" fill="#fff" fill-opacity="1.0" stroke="#8a8a8a" stroke-opacity="0.95" stroke-width="0.55"/>
<circle cx="352.97" cy="74.81" r="1.4" fill="#fff" fill-opacity="1.0" stroke="#8a8a8a" stroke-opacity="0.95" stroke-width="0.55"/>
<circle cx="353.69" cy="56.96" r="1.4" fill="#fff" fill-opacity="1.0" stroke="#8a8a8a" stroke-opacity="0.95" stroke-width="0.55"/>
<circle cx="354.40" cy="39.10" r="1.4" fill="#fff" fill-opacity="1.0" stroke="#8a8a8a" stroke-opacity="0.95" stroke-width="0.55"/>
<path d="M350.74 127.99L352.14 130.65H349.34Z" fill="#fff" fill-opacity="1.0" stroke="#8a8a8a" stroke-opacity="0.95" stroke-width="0.55"/>
<path d="M351.41 110.70L352.81 113.36H350.01Z" fill="#fff" fill-opacity="1.0" stroke="#8a8a8a" stroke-opacity="0.95" stroke-width="0.55"/>
<path d="M352.09 93.42L353.49 96.08H350.69Z" fill="#fff" fill-opacity="1.0" stroke="#8a8a8a" stroke-opacity="0.95" stroke-width="0.55"/>
<path d="M352.76 76.13L354.16 78.79H351.36Z" fill="#fff" fill-opacity="1.0" stroke="#8a8a8a" stroke-opacity="0.95" stroke-width="0.55"/>
<path d="M353.43 58.85L354.83 61.51H352.03Z" fill="#fff" fill-opacity="1.0" stroke="#8a8a8a" stroke-opacity="0.95" stroke-width="0.55"/>
<path d="M354.10 41.56L355.50 44.22H352.70Z" fill="#fff" fill-opacity="1.0" stroke="#8a8a8a" stroke-opacity="0.95" stroke-width="0.55"/>
<circle cx="350.11" cy="30.77" r="1.4" fill="#fff" fill-opacity="1.0" stroke="#8a8a8a" stroke-opacity="0.95" stroke-width="0.55"/>
<circle cx="350.24" cy="92.70" r="1.4" fill="#fff" fill-opacity="1.0" stroke="#8a8a8a" stroke-opacity="0.95" stroke-width="0.55"/>
<circle cx="350.46" cy="73.81" r="1.4" fill="#fff" fill-opacity="1.0" stroke="#8a8a8a" stroke-opacity="0.95" stroke-width="0.55"/>
<circle cx="350.68" cy="54.92" r="1.4" fill="#fff" fill-opacity="1.0" stroke="#8a8a8a" stroke-opacity="0.95" stroke-width="0.55"/>
<circle cx="350.91" cy="36.03" r="1.4" fill="#fff" fill-opacity="1.0" stroke="#8a8a8a" stroke-opacity="0.95" stroke-width="0.55"/>
<circle cx="351.13" cy="17.14" r="1.4" fill="#fff" fill-opacity="1.0" stroke="#8a8a8a" stroke-opacity="0.95" stroke-width="0.55"/>
<path d="M380.70 164.10v-2.4M380.70 13.20v2.4M412.00 164.10v-2.4M412.00 13.20v2.4M443.30 164.10v-2.4M443.30 13.20v2.4M474.60 164.10v-2.4M474.60 13.20v2.4M505.90 164.10v-2.4M505.90 13.20v2.4M349.30 138.95h2.4M536.70 138.95h-2.4M349.30 113.80h2.4M536.70 113.80h-2.4M349.30 88.65h2.4M536.70 88.65h-2.4M349.30 63.50h2.4M536.70 63.50h-2.4M349.30 38.35h2.4M536.70 38.35h-2.4" stroke="#444" stroke-width="0.8" fill="none"/>
<rect x="349.30" y="13.20" width="187.40" height="150.90" fill="none" stroke="#4c4c4c" stroke-width="1.1"/>
<path d="M349.3 13.80V163.50" stroke="#86701e" stroke-width="1.3" stroke-opacity="0.9"/>
<rect x="460.50" y="15.50" width="73.90" height="120.50" fill="#fff" stroke="#8e8e8e" stroke-width="0.9"/>
<text x="476.00" y="29.60" font-size="8.6" fill="#222" text-anchor="middle" stroke="#222" stroke-width="0.2">(#)</text>
<text x="501.20" y="29.60" font-size="8.6" fill="#222" text-anchor="middle" stroke="#222" stroke-width="0.2">(*)</text>
<path d="M467.40 35.45H485.80M492.20 35.45H510.50" stroke="#545454" stroke-width="1.05" fill="none"/>
<circle cx="476.60" cy="35.45" r="1.35" fill="#fff" fill-opacity="1.0" stroke="#8a8a8a" stroke-opacity="0.9" stroke-width="0.55"/>
<path d="M501.35 33.91L502.75 36.57H499.95Z" fill="#fff" fill-opacity="1.0" stroke="#8a8a8a" stroke-opacity="0.9" stroke-width="0.55"/>
<text x="513.90" y="38.65" font-size="10.2" fill="#1c1c1c" stroke="#1c1c1c" stroke-width="0.22" textLength="15.8" lengthAdjust="spacingAndGlyphs"><tspan font-style="italic">l</tspan> = 1</text>
<path d="M467.40 45.98H485.80M492.20 45.98H510.50" stroke="#F44A4A" stroke-width="1.05" fill="none"/>
<circle cx="476.60" cy="45.98" r="1.35" fill="#fff" fill-opacity="1.0" stroke="#8a8a8a" stroke-opacity="0.9" stroke-width="0.55"/>
<path d="M501.35 44.44L502.75 47.10H499.95Z" fill="#fff" fill-opacity="1.0" stroke="#8a8a8a" stroke-opacity="0.9" stroke-width="0.55"/>
<text x="513.90" y="49.18" font-size="10.2" fill="#1c1c1c" stroke="#1c1c1c" stroke-width="0.22" textLength="15.8" lengthAdjust="spacingAndGlyphs"><tspan font-style="italic">l</tspan> = 3</text>
<path d="M467.40 56.51H485.80M492.20 56.51H510.50" stroke="#3880EA" stroke-width="1.05" fill="none"/>
<circle cx="476.60" cy="56.51" r="1.35" fill="#fff" fill-opacity="1.0" stroke="#8a8a8a" stroke-opacity="0.9" stroke-width="0.55"/>
<path d="M501.35 54.97L502.75 57.63H499.95Z" fill="#fff" fill-opacity="1.0" stroke="#8a8a8a" stroke-opacity="0.9" stroke-width="0.55"/>
<text x="513.90" y="59.71" font-size="10.2" fill="#1c1c1c" stroke="#1c1c1c" stroke-width="0.22" textLength="15.8" lengthAdjust="spacingAndGlyphs"><tspan font-style="italic">l</tspan> = 5</text>
<path d="M467.40 67.04H485.80M492.20 67.04H510.50" stroke="#42B87A" stroke-width="1.05" fill="none"/>
<circle cx="476.60" cy="67.04" r="1.35" fill="#fff" fill-opacity="1.0" stroke="#8a8a8a" stroke-opacity="0.9" stroke-width="0.55"/>
<path d="M501.35 65.50L502.75 68.16H499.95Z" fill="#fff" fill-opacity="1.0" stroke="#8a8a8a" stroke-opacity="0.9" stroke-width="0.55"/>
<text x="513.90" y="70.24" font-size="10.2" fill="#1c1c1c" stroke="#1c1c1c" stroke-width="0.22" textLength="15.8" lengthAdjust="spacingAndGlyphs"><tspan font-style="italic">l</tspan> = 7</text>
<path d="M467.40 77.57H485.80M492.20 77.57H510.50" stroke="#BA86EA" stroke-width="1.05" fill="none"/>
<circle cx="476.60" cy="77.57" r="1.35" fill="#fff" fill-opacity="1.0" stroke="#8a8a8a" stroke-opacity="0.9" stroke-width="0.55"/>
<path d="M501.35 76.03L502.75 78.69H499.95Z" fill="#fff" fill-opacity="1.0" stroke="#8a8a8a" stroke-opacity="0.9" stroke-width="0.55"/>
<text x="513.90" y="80.77" font-size="10.2" fill="#1c1c1c" stroke="#1c1c1c" stroke-width="0.22" textLength="15.8" lengthAdjust="spacingAndGlyphs"><tspan font-style="italic">l</tspan> = 9</text>
<path d="M467.40 88.10H485.80M492.20 88.10H510.50" stroke="#DCA61C" stroke-width="1.05" fill="none"/>
<circle cx="476.60" cy="88.10" r="1.35" fill="#fff" fill-opacity="1.0" stroke="#8a8a8a" stroke-opacity="0.9" stroke-width="0.55"/>
<path d="M501.35 86.56L502.75 89.22H499.95Z" fill="#fff" fill-opacity="1.0" stroke="#8a8a8a" stroke-opacity="0.9" stroke-width="0.55"/>
<text x="511.90" y="91.30" font-size="10.2" fill="#1c1c1c" stroke="#1c1c1c" stroke-width="0.22" textLength="19.5" lengthAdjust="spacingAndGlyphs"><tspan font-style="italic">l</tspan> = 11</text>
<path d="M467.40 98.63H485.80M492.20 98.63H510.50" stroke="#20D6D8" stroke-width="1.05" fill="none"/>
<circle cx="476.60" cy="98.63" r="1.35" fill="#fff" fill-opacity="1.0" stroke="#8a8a8a" stroke-opacity="0.9" stroke-width="0.55"/>
<path d="M501.35 97.09L502.75 99.75H499.95Z" fill="#fff" fill-opacity="1.0" stroke="#8a8a8a" stroke-opacity="0.9" stroke-width="0.55"/>
<text x="511.90" y="101.83" font-size="10.2" fill="#1c1c1c" stroke="#1c1c1c" stroke-width="0.22" textLength="19.5" lengthAdjust="spacingAndGlyphs"><tspan font-style="italic">l</tspan> = 13</text>
<path d="M467.40 109.16H485.80M492.20 109.16H510.50" stroke="#946C6C" stroke-width="1.05" fill="none"/>
<circle cx="476.60" cy="109.16" r="1.35" fill="#fff" fill-opacity="1.0" stroke="#8a8a8a" stroke-opacity="0.9" stroke-width="0.55"/>
<path d="M501.35 107.62L502.75 110.28H499.95Z" fill="#fff" fill-opacity="1.0" stroke="#8a8a8a" stroke-opacity="0.9" stroke-width="0.55"/>
<text x="511.90" y="112.36" font-size="10.2" fill="#1c1c1c" stroke="#1c1c1c" stroke-width="0.22" textLength="19.5" lengthAdjust="spacingAndGlyphs"><tspan font-style="italic">l</tspan> = 15</text>
<path d="M467.40 119.69H485.80M492.20 119.69H510.50" stroke="#9E9E22" stroke-width="1.05" fill="none"/>
<circle cx="476.60" cy="119.69" r="1.35" fill="#fff" fill-opacity="1.0" stroke="#8a8a8a" stroke-opacity="0.9" stroke-width="0.55"/>
<path d="M501.35 118.15L502.75 120.81H499.95Z" fill="#fff" fill-opacity="1.0" stroke="#8a8a8a" stroke-opacity="0.9" stroke-width="0.55"/>
<text x="511.90" y="122.89" font-size="10.2" fill="#1c1c1c" stroke="#1c1c1c" stroke-width="0.22" textLength="19.5" lengthAdjust="spacingAndGlyphs"><tspan font-style="italic">l</tspan> = 17</text>
<path d="M467.40 130.22H485.80M492.20 130.22H510.50" stroke="#FC7E30" stroke-width="1.05" fill="none"/>
<circle cx="476.60" cy="130.22" r="1.35" fill="#fff" fill-opacity="1.0" stroke="#8a8a8a" stroke-opacity="0.9" stroke-width="0.55"/>
<path d="M501.35 128.68L502.75 131.34H499.95Z" fill="#fff" fill-opacity="1.0" stroke="#8a8a8a" stroke-opacity="0.9" stroke-width="0.55"/>
<text x="511.90" y="133.42" font-size="10.2" fill="#1c1c1c" stroke="#1c1c1c" stroke-width="0.22" textLength="19.5" lengthAdjust="spacingAndGlyphs"><tspan font-style="italic">l</tspan> = 19</text>
<text x="320.80" y="16.80" font-size="14" fill="#161616" textLength="19.80" lengthAdjust="spacingAndGlyphs" stroke="#161616" stroke-width="0.15">300</text>
<text x="320.90" y="91.60" font-size="14" fill="#161616" textLength="19.00" lengthAdjust="spacingAndGlyphs" stroke="#161616" stroke-width="0.15">150</text>
<text x="327.20" y="167.30" font-size="14" fill="#161616" textLength="6.80" lengthAdjust="spacingAndGlyphs" stroke="#161616" stroke-width="0.15">0</text>
<text x="344.00" y="177.60" font-size="14" fill="#161616" textLength="10.80" lengthAdjust="spacingAndGlyphs" stroke="#161616" stroke-width="0.15">0°</text>
<text x="404.00" y="177.60" font-size="14" fill="#161616" textLength="18.00" lengthAdjust="spacingAndGlyphs" stroke="#161616" stroke-width="0.15">10°</text>
<text x="468.00" y="177.60" font-size="14" fill="#161616" textLength="18.80" lengthAdjust="spacingAndGlyphs" stroke="#161616" stroke-width="0.15">20°</text>
<text x="528.80" y="177.60" font-size="14" fill="#161616" textLength="19.20" lengthAdjust="spacingAndGlyphs" stroke="#161616" stroke-width="0.15">30°</text>
<text x="306.0" y="104.3" font-size="14" fill="#161616" stroke="#161616" stroke-width="0.15" transform="rotate(-90 306.0 104.3)" textLength="35.4" lengthAdjust="spacingAndGlyphs"><tspan font-style="italic">F</tspan><tspan font-size="8" dy="1.4">N</tspan><tspan dy="-1.4"> (N)</tspan></text>
<text x="444.60" y="191.50" font-size="15.5" fill="#161616" text-anchor="middle" font-style="italic" stroke="#161616" stroke-width="0.15">θ</text>
<text x="425.40" y="212.80" font-size="12.6" fill="#161616" text-anchor="middle" stroke="#161616" stroke-width="0.12">(<tspan font-weight="bold">b</tspan>)</text>
<clipPath id="cc"><rect x="51.80" y="226.70" width="189.80" height="153.20"/></clipPath>
<path d="M51.90 379.80L164.10 344.60L241.90 322.80" stroke="#545454" stroke-width="1.15" fill="none" stroke-linejoin="round" clip-path="url(#cc)"/>
<path d="M51.90 379.80L164.10 345.00L241.90 323.60" stroke="#545454" stroke-width="1.15" fill="none" stroke-linejoin="round" clip-path="url(#cc)"/>
<path d="M51.90 379.80L194.81 208.33" stroke="#F44A4A" stroke-width="1.2" fill="none" stroke-linejoin="round" clip-path="url(#cc)"/>
<path d="M51.90 379.80L199.96 208.33" stroke="#F44A4A" stroke-width="1.2" fill="none" stroke-linejoin="round" clip-path="url(#cc)"/>
<path d="M51.90 379.80L115.96 208.33" stroke="#3880EA" stroke-width="0.95" fill="none" stroke-linejoin="round" clip-path="url(#cc)"/>
<path d="M51.90 379.80L117.87 208.33" stroke="#3880EA" stroke-width="0.95" fill="none" stroke-linejoin="round" clip-path="url(#cc)"/>
<path d="M51.90 379.80L119.66 208.33" stroke="#3880EA" stroke-width="0.95" fill="none" stroke-linejoin="round" clip-path="url(#cc)"/>
<path d="M51.90 379.80L85.84 208.33" stroke="#42B87A" stroke-width="1.25" fill="none" stroke-linejoin="round" clip-path="url(#cc)"/>
<path d="M51.90 379.80L86.96 208.33" stroke="#42B87A" stroke-width="1.25" fill="none" stroke-linejoin="round" clip-path="url(#cc)"/>
<path d="M51.90 379.80L70.49 208.33" stroke="#BA86EA" stroke-width="1.0" fill="none" stroke-linejoin="round" clip-path="url(#cc)"/>
<path d="M51.90 379.80L71.05 208.33" stroke="#BA86EA" stroke-width="1.0" fill="none" stroke-linejoin="round" clip-path="url(#cc)"/>
<path d="M51.90 379.80L62.43 208.33" stroke="#DCA61C" stroke-width="1.1" fill="none" stroke-linejoin="round" clip-path="url(#cc)"/>
<path d="M51.90 379.80L62.99 208.33" stroke="#DCA61C" stroke-width="1.1" fill="none" stroke-linejoin="round" clip-path="url(#cc)"/>
<path d="M51.90 379.80L56.72 208.33" stroke="#20D6D8" stroke-width="1.0" fill="none" stroke-linejoin="round" clip-path="url(#cc)"/>
<path d="M51.90 379.80L57.16 208.33" stroke="#20D6D8" stroke-width="1.0" fill="none" stroke-linejoin="round" clip-path="url(#cc)"/>
<path d="M51.90 379.80L52.35 208.33" stroke="#FC7E30" stroke-width="1.0" fill="none" stroke-linejoin="round" clip-path="url(#cc)"/>
<path d="M51.90 379.80L52.91 208.33" stroke="#9E9E22" stroke-width="1.0" fill="none" stroke-linejoin="round" clip-path="url(#cc)"/>
<path d="M51.90 379.80L53.58 208.33" stroke="#946C6C" stroke-width="0.8" fill="none" stroke-linejoin="round" clip-path="url(#cc)"/>
<circle cx="55.92" cy="378.54" r="1.15" fill="#fff" fill-opacity="0.95" stroke="#8a8a8a" stroke-opacity="0.8" stroke-width="0.45"/>
<circle cx="79.58" cy="371.11" r="1.15" fill="#fff" fill-opacity="0.95" stroke="#8a8a8a" stroke-opacity="0.8" stroke-width="0.45"/>
<circle cx="103.25" cy="363.69" r="1.15" fill="#fff" fill-opacity="0.95" stroke="#8a8a8a" stroke-opacity="0.8" stroke-width="0.45"/>
<circle cx="126.91" cy="356.27" r="1.15" fill="#fff" fill-opacity="0.95" stroke="#8a8a8a" stroke-opacity="0.8" stroke-width="0.45"/>
<circle cx="150.57" cy="348.85" r="1.15" fill="#fff" fill-opacity="0.95" stroke="#8a8a8a" stroke-opacity="0.8" stroke-width="0.45"/>
<circle cx="174.32" cy="341.74" r="1.15" fill="#fff" fill-opacity="0.95" stroke="#8a8a8a" stroke-opacity="0.8" stroke-width="0.45"/>
<circle cx="198.20" cy="335.04" r="1.15" fill="#fff" fill-opacity="0.95" stroke="#8a8a8a" stroke-opacity="0.8" stroke-width="0.45"/>
<circle cx="222.08" cy="328.35" r="1.15" fill="#fff" fill-opacity="0.95" stroke="#8a8a8a" stroke-opacity="0.8" stroke-width="0.45"/>
<path d="M65.62 374.28L66.77 376.46H64.47Z" fill="#fff" fill-opacity="0.95" stroke="#8a8a8a" stroke-opacity="0.8" stroke-width="0.45"/>
<path d="M89.28 366.94L90.43 369.13H88.13Z" fill="#fff" fill-opacity="0.95" stroke="#8a8a8a" stroke-opacity="0.8" stroke-width="0.45"/>
<path d="M112.94 359.60L114.09 361.79H111.79Z" fill="#fff" fill-opacity="0.95" stroke="#8a8a8a" stroke-opacity="0.8" stroke-width="0.45"/>
<path d="M136.60 352.27L137.75 354.45H135.45Z" fill="#fff" fill-opacity="0.95" stroke="#8a8a8a" stroke-opacity="0.8" stroke-width="0.45"/>
<path d="M160.26 344.93L161.41 347.11H159.11Z" fill="#fff" fill-opacity="0.95" stroke="#8a8a8a" stroke-opacity="0.8" stroke-width="0.45"/>
<path d="M184.10 338.23L185.25 340.42H182.95Z" fill="#fff" fill-opacity="0.95" stroke="#8a8a8a" stroke-opacity="0.8" stroke-width="0.45"/>
<path d="M207.99 331.66L209.14 333.85H206.84Z" fill="#fff" fill-opacity="0.95" stroke="#8a8a8a" stroke-opacity="0.8" stroke-width="0.45"/>
<path d="M231.87 325.09L233.02 327.28H230.72Z" fill="#fff" fill-opacity="0.95" stroke="#8a8a8a" stroke-opacity="0.8" stroke-width="0.45"/>
<circle cx="61.29" cy="368.53" r="1.15" fill="#fff" fill-opacity="0.95" stroke="#8a8a8a" stroke-opacity="0.8" stroke-width="0.45"/>
<circle cx="81.71" cy="344.04" r="1.15" fill="#fff" fill-opacity="0.95" stroke="#8a8a8a" stroke-opacity="0.8" stroke-width="0.45"/>
<circle cx="102.12" cy="319.54" r="1.15" fill="#fff" fill-opacity="0.95" stroke="#8a8a8a" stroke-opacity="0.8" stroke-width="0.45"/>
<circle cx="122.54" cy="295.04" r="1.15" fill="#fff" fill-opacity="0.95" stroke="#8a8a8a" stroke-opacity="0.8" stroke-width="0.45"/>
<circle cx="142.96" cy="270.55" r="1.15" fill="#fff" fill-opacity="0.95" stroke="#8a8a8a" stroke-opacity="0.8" stroke-width="0.45"/>
<circle cx="163.37" cy="246.05" r="1.15" fill="#fff" fill-opacity="0.95" stroke="#8a8a8a" stroke-opacity="0.8" stroke-width="0.45"/>
<path d="M70.30 357.22L71.45 359.41H69.15Z" fill="#fff" fill-opacity="0.95" stroke="#8a8a8a" stroke-opacity="0.8" stroke-width="0.45"/>
<path d="M91.45 332.73L92.60 334.91H90.30Z" fill="#fff" fill-opacity="0.95" stroke="#8a8a8a" stroke-opacity="0.8" stroke-width="0.45"/>
<path d="M112.61 308.23L113.76 310.42H111.46Z" fill="#fff" fill-opacity="0.95" stroke="#8a8a8a" stroke-opacity="0.8" stroke-width="0.45"/>
<path d="M133.76 283.74L134.91 285.92H132.61Z" fill="#fff" fill-opacity="0.95" stroke="#8a8a8a" stroke-opacity="0.8" stroke-width="0.45"/>
<path d="M154.91 259.24L156.06 261.42H153.76Z" fill="#fff" fill-opacity="0.95" stroke="#8a8a8a" stroke-opacity="0.8" stroke-width="0.45"/>
<path d="M176.06 234.74L177.21 236.93H174.91Z" fill="#fff" fill-opacity="0.95" stroke="#8a8a8a" stroke-opacity="0.8" stroke-width="0.45"/>
<circle cx="58.76" cy="361.43" r="1.15" fill="#fff" fill-opacity="0.95" stroke="#8a8a8a" stroke-opacity="0.8" stroke-width="0.45"/>
<circle cx="67.92" cy="336.93" r="1.15" fill="#fff" fill-opacity="0.95" stroke="#8a8a8a" stroke-opacity="0.8" stroke-width="0.45"/>
<circle cx="77.07" cy="312.44" r="1.15" fill="#fff" fill-opacity="0.95" stroke="#8a8a8a" stroke-opacity="0.8" stroke-width="0.45"/>
<circle cx="86.22" cy="287.94" r="1.15" fill="#fff" fill-opacity="0.95" stroke="#8a8a8a" stroke-opacity="0.8" stroke-width="0.45"/>
<circle cx="95.37" cy="263.44" r="1.15" fill="#fff" fill-opacity="0.95" stroke="#8a8a8a" stroke-opacity="0.8" stroke-width="0.45"/>
<circle cx="104.52" cy="238.95" r="1.15" fill="#fff" fill-opacity="0.95" stroke="#8a8a8a" stroke-opacity="0.8" stroke-width="0.45"/>
<path d="M53.41 374.62L54.56 376.80H52.26Z" fill="#fff" fill-opacity="0.95" stroke="#8a8a8a" stroke-opacity="0.8" stroke-width="0.45"/>
<path d="M62.83 350.12L63.98 352.30H61.68Z" fill="#fff" fill-opacity="0.95" stroke="#8a8a8a" stroke-opacity="0.8" stroke-width="0.45"/>
<path d="M72.26 325.62L73.41 327.81H71.11Z" fill="#fff" fill-opacity="0.95" stroke="#8a8a8a" stroke-opacity="0.8" stroke-width="0.45"/>
<path d="M81.68 301.13L82.83 303.31H80.53Z" fill="#fff" fill-opacity="0.95" stroke="#8a8a8a" stroke-opacity="0.8" stroke-width="0.45"/>
<path d="M91.10 276.63L92.25 278.82H89.95Z" fill="#fff" fill-opacity="0.95" stroke="#8a8a8a" stroke-opacity="0.8" stroke-width="0.45"/>
<path d="M100.53 252.14L101.68 254.32H99.38Z" fill="#fff" fill-opacity="0.95" stroke="#8a8a8a" stroke-opacity="0.8" stroke-width="0.45"/>
<path d="M109.95 227.64L111.10 229.82H108.80Z" fill="#fff" fill-opacity="0.95" stroke="#8a8a8a" stroke-opacity="0.8" stroke-width="0.45"/>
<circle cx="57.42" cy="365.84" r="1.15" fill="#fff" fill-opacity="0.95" stroke="#8a8a8a" stroke-opacity="0.8" stroke-width="0.45"/>
<circle cx="67.10" cy="341.34" r="1.15" fill="#fff" fill-opacity="0.95" stroke="#8a8a8a" stroke-opacity="0.8" stroke-width="0.45"/>
<circle cx="76.78" cy="316.85" r="1.15" fill="#fff" fill-opacity="0.95" stroke="#8a8a8a" stroke-opacity="0.8" stroke-width="0.45"/>
<circle cx="86.46" cy="292.35" r="1.15" fill="#fff" fill-opacity="0.95" stroke="#8a8a8a" stroke-opacity="0.8" stroke-width="0.45"/>
<circle cx="96.14" cy="267.85" r="1.15" fill="#fff" fill-opacity="0.95" stroke="#8a8a8a" stroke-opacity="0.8" stroke-width="0.45"/>
<circle cx="105.82" cy="243.36" r="1.15" fill="#fff" fill-opacity="0.95" stroke="#8a8a8a" stroke-opacity="0.8" stroke-width="0.45"/>
<circle cx="56.94" cy="354.32" r="1.15" fill="#fff" fill-opacity="0.95" stroke="#8a8a8a" stroke-opacity="0.8" stroke-width="0.45"/>
<circle cx="61.79" cy="329.83" r="1.15" fill="#fff" fill-opacity="0.95" stroke="#8a8a8a" stroke-opacity="0.8" stroke-width="0.45"/>
<circle cx="66.64" cy="305.33" r="1.15" fill="#fff" fill-opacity="0.95" stroke="#8a8a8a" stroke-opacity="0.8" stroke-width="0.45"/>
<circle cx="71.49" cy="280.84" r="1.15" fill="#fff" fill-opacity="0.95" stroke="#8a8a8a" stroke-opacity="0.8" stroke-width="0.45"/>
<circle cx="76.33" cy="256.34" r="1.15" fill="#fff" fill-opacity="0.95" stroke="#8a8a8a" stroke-opacity="0.8" stroke-width="0.45"/>
<circle cx="81.18" cy="231.84" r="1.15" fill="#fff" fill-opacity="0.95" stroke="#8a8a8a" stroke-opacity="0.8" stroke-width="0.45"/>
<path d="M54.15 367.51L55.30 369.70H53.00Z" fill="#fff" fill-opacity="0.95" stroke="#8a8a8a" stroke-opacity="0.8" stroke-width="0.45"/>
<path d="M59.16 343.02L60.31 345.20H58.01Z" fill="#fff" fill-opacity="0.95" stroke="#8a8a8a" stroke-opacity="0.8" stroke-width="0.45"/>
<path d="M64.17 318.52L65.32 320.70H63.02Z" fill="#fff" fill-opacity="0.95" stroke="#8a8a8a" stroke-opacity="0.8" stroke-width="0.45"/>
<path d="M69.18 294.02L70.33 296.21H68.03Z" fill="#fff" fill-opacity="0.95" stroke="#8a8a8a" stroke-opacity="0.8" stroke-width="0.45"/>
<path d="M74.19 269.53L75.34 271.71H73.04Z" fill="#fff" fill-opacity="0.95" stroke="#8a8a8a" stroke-opacity="0.8" stroke-width="0.45"/>
<path d="M79.19 245.03L80.34 247.22H78.04Z" fill="#fff" fill-opacity="0.95" stroke="#8a8a8a" stroke-opacity="0.8" stroke-width="0.45"/>
<circle cx="52.78" cy="371.72" r="1.15" fill="#fff" fill-opacity="0.95" stroke="#8a8a8a" stroke-opacity="0.8" stroke-width="0.45"/>
<circle cx="55.43" cy="347.22" r="1.15" fill="#fff" fill-opacity="0.95" stroke="#8a8a8a" stroke-opacity="0.8" stroke-width="0.45"/>
<circle cx="58.09" cy="322.72" r="1.15" fill="#fff" fill-opacity="0.95" stroke="#8a8a8a" stroke-opacity="0.8" stroke-width="0.45"/>
<circle cx="60.74" cy="298.23" r="1.15" fill="#fff" fill-opacity="0.95" stroke="#8a8a8a" stroke-opacity="0.8" stroke-width="0.45"/>
<circle cx="63.40" cy="273.73" r="1.15" fill="#fff" fill-opacity="0.95" stroke="#8a8a8a" stroke-opacity="0.8" stroke-width="0.45"/>
<circle cx="66.06" cy="249.24" r="1.15" fill="#fff" fill-opacity="0.95" stroke="#8a8a8a" stroke-opacity="0.8" stroke-width="0.45"/>
<path d="M53.92 360.41L55.07 362.59H52.77Z" fill="#fff" fill-opacity="0.95" stroke="#8a8a8a" stroke-opacity="0.8" stroke-width="0.45"/>
<path d="M56.66 335.91L57.81 338.10H55.51Z" fill="#fff" fill-opacity="0.95" stroke="#8a8a8a" stroke-opacity="0.8" stroke-width="0.45"/>
<path d="M59.40 311.42L60.55 313.60H58.25Z" fill="#fff" fill-opacity="0.95" stroke="#8a8a8a" stroke-opacity="0.8" stroke-width="0.45"/>
<path d="M62.13 286.92L63.28 289.10H60.98Z" fill="#fff" fill-opacity="0.95" stroke="#8a8a8a" stroke-opacity="0.8" stroke-width="0.45"/>
<path d="M64.87 262.42L66.02 264.61H63.72Z" fill="#fff" fill-opacity="0.95" stroke="#8a8a8a" stroke-opacity="0.8" stroke-width="0.45"/>
<path d="M67.60 237.93L68.75 240.11H66.45Z" fill="#fff" fill-opacity="0.95" stroke="#8a8a8a" stroke-opacity="0.8" stroke-width="0.45"/>
<circle cx="52.83" cy="364.61" r="1.15" fill="#fff" fill-opacity="0.95" stroke="#8a8a8a" stroke-opacity="0.8" stroke-width="0.45"/>
<circle cx="54.34" cy="340.12" r="1.15" fill="#fff" fill-opacity="0.95" stroke="#8a8a8a" stroke-opacity="0.8" stroke-width="0.45"/>
<circle cx="55.84" cy="315.62" r="1.15" fill="#fff" fill-opacity="0.95" stroke="#8a8a8a" stroke-opacity="0.8" stroke-width="0.45"/>
<circle cx="57.34" cy="291.12" r="1.15" fill="#fff" fill-opacity="0.95" stroke="#8a8a8a" stroke-opacity="0.8" stroke-width="0.45"/>
<circle cx="58.85" cy="266.63" r="1.15" fill="#fff" fill-opacity="0.95" stroke="#8a8a8a" stroke-opacity="0.8" stroke-width="0.45"/>
<circle cx="60.35" cy="242.13" r="1.15" fill="#fff" fill-opacity="0.95" stroke="#8a8a8a" stroke-opacity="0.8" stroke-width="0.45"/>
<path d="M53.53 353.30L54.68 355.49H52.38Z" fill="#fff" fill-opacity="0.95" stroke="#8a8a8a" stroke-opacity="0.8" stroke-width="0.45"/>
<path d="M55.12 328.81L56.27 330.99H53.97Z" fill="#fff" fill-opacity="0.95" stroke="#8a8a8a" stroke-opacity="0.8" stroke-width="0.45"/>
<path d="M56.70 304.31L57.85 306.50H55.55Z" fill="#fff" fill-opacity="0.95" stroke="#8a8a8a" stroke-opacity="0.8" stroke-width="0.45"/>
<path d="M58.28 279.82L59.43 282.00H57.13Z" fill="#fff" fill-opacity="0.95" stroke="#8a8a8a" stroke-opacity="0.8" stroke-width="0.45"/>
<path d="M59.87 255.32L61.02 257.51H58.72Z" fill="#fff" fill-opacity="0.95" stroke="#8a8a8a" stroke-opacity="0.8" stroke-width="0.45"/>
<path d="M61.45 230.82L62.60 233.01H60.30Z" fill="#fff" fill-opacity="0.95" stroke="#8a8a8a" stroke-opacity="0.8" stroke-width="0.45"/>
<circle cx="53.21" cy="333.01" r="1.15" fill="#fff" fill-opacity="0.95" stroke="#8a8a8a" stroke-opacity="0.8" stroke-width="0.45"/>
<circle cx="53.90" cy="308.52" r="1.15" fill="#fff" fill-opacity="0.95" stroke="#8a8a8a" stroke-opacity="0.8" stroke-width="0.45"/>
<circle cx="54.59" cy="284.02" r="1.15" fill="#fff" fill-opacity="0.95" stroke="#8a8a8a" stroke-opacity="0.8" stroke-width="0.45"/>
<circle cx="55.28" cy="259.52" r="1.15" fill="#fff" fill-opacity="0.95" stroke="#8a8a8a" stroke-opacity="0.8" stroke-width="0.45"/>
<circle cx="55.97" cy="235.03" r="1.15" fill="#fff" fill-opacity="0.95" stroke="#8a8a8a" stroke-opacity="0.8" stroke-width="0.45"/>
<path d="M52.89 346.20L54.04 348.39H51.74Z" fill="#fff" fill-opacity="0.95" stroke="#8a8a8a" stroke-opacity="0.8" stroke-width="0.45"/>
<path d="M53.64 321.70L54.79 323.89H52.49Z" fill="#fff" fill-opacity="0.95" stroke="#8a8a8a" stroke-opacity="0.8" stroke-width="0.45"/>
<path d="M54.40 297.21L55.55 299.39H53.25Z" fill="#fff" fill-opacity="0.95" stroke="#8a8a8a" stroke-opacity="0.8" stroke-width="0.45"/>
<path d="M55.15 272.71L56.30 274.90H54.00Z" fill="#fff" fill-opacity="0.95" stroke="#8a8a8a" stroke-opacity="0.8" stroke-width="0.45"/>
<path d="M55.90 248.22L57.05 250.40H54.75Z" fill="#fff" fill-opacity="0.95" stroke="#8a8a8a" stroke-opacity="0.8" stroke-width="0.45"/>
<circle cx="52.69" cy="245.32" r="1.15" fill="#fff" fill-opacity="0.95" stroke="#8a8a8a" stroke-opacity="0.8" stroke-width="0.45"/>
<circle cx="52.81" cy="287.21" r="1.15" fill="#fff" fill-opacity="0.95" stroke="#8a8a8a" stroke-opacity="0.8" stroke-width="0.45"/>
<circle cx="53.05" cy="262.71" r="1.15" fill="#fff" fill-opacity="0.95" stroke="#8a8a8a" stroke-opacity="0.8" stroke-width="0.45"/>
<circle cx="53.29" cy="238.21" r="1.15" fill="#fff" fill-opacity="0.95" stroke="#8a8a8a" stroke-opacity="0.8" stroke-width="0.45"/>
<path d="M83.50 379.90v-2.4M83.50 226.70v2.4M115.10 379.90v-2.4M115.10 226.70v2.4M146.70 379.90v-2.4M146.70 226.70v2.4M178.30 379.90v-2.4M178.30 226.70v2.4M209.90 379.90v-2.4M209.90 226.70v2.4M51.80 354.28h2.4M241.60 354.28h-2.4M51.80 328.76h2.4M241.60 328.76h-2.4M51.80 303.24h2.4M241.60 303.24h-2.4M51.80 277.72h2.4M241.60 277.72h-2.4M51.80 252.20h2.4M241.60 252.20h-2.4" stroke="#444" stroke-width="0.8" fill="none"/>
<rect x="51.80" y="226.70" width="189.80" height="153.20" fill="none" stroke="#4c4c4c" stroke-width="1.1"/>
<path d="M52.0 227.30V379.30" stroke="#694a1c" stroke-width="1.5" stroke-opacity="0.9"/>
<rect x="164.10" y="229.20" width="73.40" height="120.70" fill="#fff" stroke="#8e8e8e" stroke-width="0.9"/>
<text x="179.40" y="242.30" font-size="8.6" fill="#222" text-anchor="middle" stroke="#222" stroke-width="0.2">(#)</text>
<text x="204.50" y="242.30" font-size="8.6" fill="#222" text-anchor="middle" stroke="#222" stroke-width="0.2">(*)</text>
<path d="M170.60 248.90H188.90M194.90 248.90H213.60" stroke="#545454" stroke-width="1.05" fill="none"/>
<circle cx="179.75" cy="248.90" r="1.35" fill="#fff" fill-opacity="1.0" stroke="#8a8a8a" stroke-opacity="0.9" stroke-width="0.55"/>
<path d="M204.25 247.36L205.65 250.02H202.85Z" fill="#fff" fill-opacity="1.0" stroke="#8a8a8a" stroke-opacity="0.9" stroke-width="0.55"/>
<text x="217.00" y="252.10" font-size="10.2" fill="#1c1c1c" stroke="#1c1c1c" stroke-width="0.22" textLength="15.8" lengthAdjust="spacingAndGlyphs"><tspan font-style="italic">l</tspan> = 1</text>
<path d="M170.60 259.41H188.90M194.90 259.41H213.60" stroke="#F44A4A" stroke-width="1.05" fill="none"/>
<circle cx="179.75" cy="259.41" r="1.35" fill="#fff" fill-opacity="1.0" stroke="#8a8a8a" stroke-opacity="0.9" stroke-width="0.55"/>
<path d="M204.25 257.87L205.65 260.53H202.85Z" fill="#fff" fill-opacity="1.0" stroke="#8a8a8a" stroke-opacity="0.9" stroke-width="0.55"/>
<text x="217.00" y="262.61" font-size="10.2" fill="#1c1c1c" stroke="#1c1c1c" stroke-width="0.22" textLength="15.8" lengthAdjust="spacingAndGlyphs"><tspan font-style="italic">l</tspan> = 3</text>
<path d="M170.60 269.92H188.90M194.90 269.92H213.60" stroke="#3880EA" stroke-width="1.05" fill="none"/>
<circle cx="179.75" cy="269.92" r="1.35" fill="#fff" fill-opacity="1.0" stroke="#8a8a8a" stroke-opacity="0.9" stroke-width="0.55"/>
<path d="M204.25 268.38L205.65 271.04H202.85Z" fill="#fff" fill-opacity="1.0" stroke="#8a8a8a" stroke-opacity="0.9" stroke-width="0.55"/>
<text x="217.00" y="273.12" font-size="10.2" fill="#1c1c1c" stroke="#1c1c1c" stroke-width="0.22" textLength="15.8" lengthAdjust="spacingAndGlyphs"><tspan font-style="italic">l</tspan> = 5</text>
<path d="M170.60 280.43H188.90M194.90 280.43H213.60" stroke="#42B87A" stroke-width="1.05" fill="none"/>
<circle cx="179.75" cy="280.43" r="1.35" fill="#fff" fill-opacity="1.0" stroke="#8a8a8a" stroke-opacity="0.9" stroke-width="0.55"/>
<path d="M204.25 278.89L205.65 281.55H202.85Z" fill="#fff" fill-opacity="1.0" stroke="#8a8a8a" stroke-opacity="0.9" stroke-width="0.55"/>
<text x="217.00" y="283.63" font-size="10.2" fill="#1c1c1c" stroke="#1c1c1c" stroke-width="0.22" textLength="15.8" lengthAdjust="spacingAndGlyphs"><tspan font-style="italic">l</tspan> = 7</text>
<path d="M170.60 290.94H188.90M194.90 290.94H213.60" stroke="#BA86EA" stroke-width="1.05" fill="none"/>
<circle cx="179.75" cy="290.94" r="1.35" fill="#fff" fill-opacity="1.0" stroke="#8a8a8a" stroke-opacity="0.9" stroke-width="0.55"/>
<path d="M204.25 289.40L205.65 292.06H202.85Z" fill="#fff" fill-opacity="1.0" stroke="#8a8a8a" stroke-opacity="0.9" stroke-width="0.55"/>
<text x="217.00" y="294.14" font-size="10.2" fill="#1c1c1c" stroke="#1c1c1c" stroke-width="0.22" textLength="15.8" lengthAdjust="spacingAndGlyphs"><tspan font-style="italic">l</tspan> = 9</text>
<path d="M170.60 301.45H188.90M194.90 301.45H213.60" stroke="#DCA61C" stroke-width="1.05" fill="none"/>
<circle cx="179.75" cy="301.45" r="1.35" fill="#fff" fill-opacity="1.0" stroke="#8a8a8a" stroke-opacity="0.9" stroke-width="0.55"/>
<path d="M204.25 299.91L205.65 302.57H202.85Z" fill="#fff" fill-opacity="1.0" stroke="#8a8a8a" stroke-opacity="0.9" stroke-width="0.55"/>
<text x="215.00" y="304.65" font-size="10.2" fill="#1c1c1c" stroke="#1c1c1c" stroke-width="0.22" textLength="19.5" lengthAdjust="spacingAndGlyphs"><tspan font-style="italic">l</tspan> = 11</text>
<path d="M170.60 311.96H188.90M194.90 311.96H213.60" stroke="#20D6D8" stroke-width="1.05" fill="none"/>
<circle cx="179.75" cy="311.96" r="1.35" fill="#fff" fill-opacity="1.0" stroke="#8a8a8a" stroke-opacity="0.9" stroke-width="0.55"/>
<path d="M204.25 310.42L205.65 313.08H202.85Z" fill="#fff" fill-opacity="1.0" stroke="#8a8a8a" stroke-opacity="0.9" stroke-width="0.55"/>
<text x="215.00" y="315.16" font-size="10.2" fill="#1c1c1c" stroke="#1c1c1c" stroke-width="0.22" textLength="19.5" lengthAdjust="spacingAndGlyphs"><tspan font-style="italic">l</tspan> = 13</text>
<path d="M170.60 322.47H188.90M194.90 322.47H213.60" stroke="#946C6C" stroke-width="1.05" fill="none"/>
<circle cx="179.75" cy="322.47" r="1.35" fill="#fff" fill-opacity="1.0" stroke="#8a8a8a" stroke-opacity="0.9" stroke-width="0.55"/>
<path d="M204.25 320.93L205.65 323.59H202.85Z" fill="#fff" fill-opacity="1.0" stroke="#8a8a8a" stroke-opacity="0.9" stroke-width="0.55"/>
<text x="215.00" y="325.67" font-size="10.2" fill="#1c1c1c" stroke="#1c1c1c" stroke-width="0.22" textLength="19.5" lengthAdjust="spacingAndGlyphs"><tspan font-style="italic">l</tspan> = 15</text>
<path d="M170.60 332.98H188.90M194.90 332.98H213.60" stroke="#9E9E22" stroke-width="1.05" fill="none"/>
<circle cx="179.75" cy="332.98" r="1.35" fill="#fff" fill-opacity="1.0" stroke="#8a8a8a" stroke-opacity="0.9" stroke-width="0.55"/>
<path d="M204.25 331.44L205.65 334.10H202.85Z" fill="#fff" fill-opacity="1.0" stroke="#8a8a8a" stroke-opacity="0.9" stroke-width="0.55"/>
<text x="215.00" y="336.18" font-size="10.2" fill="#1c1c1c" stroke="#1c1c1c" stroke-width="0.22" textLength="19.5" lengthAdjust="spacingAndGlyphs"><tspan font-style="italic">l</tspan> = 17</text>
<path d="M170.60 343.49H188.90M194.90 343.49H213.60" stroke="#FC7E30" stroke-width="1.05" fill="none"/>
<circle cx="179.75" cy="343.49" r="1.35" fill="#fff" fill-opacity="1.0" stroke="#8a8a8a" stroke-opacity="0.9" stroke-width="0.55"/>
<path d="M204.25 341.95L205.65 344.61H202.85Z" fill="#fff" fill-opacity="1.0" stroke="#8a8a8a" stroke-opacity="0.9" stroke-width="0.55"/>
<text x="215.00" y="346.69" font-size="10.2" fill="#1c1c1c" stroke="#1c1c1c" stroke-width="0.22" textLength="19.5" lengthAdjust="spacingAndGlyphs"><tspan font-style="italic">l</tspan> = 19</text>
<text x="26.30" y="231.00" font-size="14" fill="#161616" textLength="15.60" lengthAdjust="spacingAndGlyphs" stroke="#161616" stroke-width="0.15">1.5</text>
<text x="31.20" y="281.30" font-size="14" fill="#161616" textLength="4.80" lengthAdjust="spacingAndGlyphs" stroke="#161616" stroke-width="0.15">1</text>
<text x="24.40" y="332.20" font-size="14" fill="#161616" textLength="17.50" lengthAdjust="spacingAndGlyphs" stroke="#161616" stroke-width="0.15">0.5</text>
<text x="28.90" y="380.80" font-size="14" fill="#161616" textLength="7.00" lengthAdjust="spacingAndGlyphs" stroke="#161616" stroke-width="0.15">0</text>
<text x="49.70" y="395.50" font-size="14" fill="#161616" textLength="11.30" lengthAdjust="spacingAndGlyphs" stroke="#161616" stroke-width="0.15">0°</text>
<text x="110.00" y="395.50" font-size="14" fill="#161616" textLength="18.00" lengthAdjust="spacingAndGlyphs" stroke="#161616" stroke-width="0.15">10°</text>
<text x="174.00" y="395.50" font-size="14" fill="#161616" textLength="18.00" lengthAdjust="spacingAndGlyphs" stroke="#161616" stroke-width="0.15">20°</text>
<text x="230.00" y="395.50" font-size="14" fill="#161616" textLength="18.00" lengthAdjust="spacingAndGlyphs" stroke="#161616" stroke-width="0.15">30°</text>
<text x="15.2" y="343.3" font-size="14" fill="#161616" stroke="#161616" stroke-width="0.15" transform="rotate(-90 15.2 343.3)" textLength="71" lengthAdjust="spacingAndGlyphs"><tspan font-style="italic">M</tspan><tspan font-size="8" dy="1.4"><tspan font-style="italic">P</tspan>max</tspan><tspan dy="-1.4"> (N·m)</tspan></text>
<text x="150.40" y="409.50" font-size="15.5" fill="#161616" text-anchor="middle" font-style="italic" stroke="#161616" stroke-width="0.15">θ</text>
<text x="129.30" y="427.60" font-size="12.6" fill="#161616" text-anchor="middle" stroke="#161616" stroke-width="0.12">(<tspan font-weight="bold">c</tspan>)</text>
<clipPath id="cd"><rect x="341.60" y="227.90" width="192.10" height="150.00"/></clipPath>
<path d="M341.70 377.40L533.70 375.90" stroke="#545454" stroke-width="1.2" fill="none" stroke-linejoin="round" clip-path="url(#cd)"/>
<path d="M341.70 377.50L533.70 376.40" stroke="#545454" stroke-width="1.2" fill="none" stroke-linejoin="round" clip-path="url(#cd)"/>
<path d="M341.70 377.90L400.00 367.10L433.80 360.50L464.40 356.60L494.90 351.80" stroke="#F44A4A" stroke-width="1.1" fill="none" stroke-linejoin="round" clip-path="url(#cd)"/>
<path d="M341.70 377.90L400.00 367.30L433.80 360.90L464.40 356.90L472.70 355.30L481.70 352.50L490.50 347.90L497.70 342.90" stroke="#F44A4A" stroke-width="1.1" fill="none" stroke-linejoin="round" clip-path="url(#cd)"/>
<path d="M341.70 377.90L352.33 369.03L362.97 360.17L373.60 351.30L384.23 342.43L394.87 333.57L405.50 324.70" stroke="#3880EA" stroke-width="1.15" fill="none" stroke-linejoin="round" clip-path="url(#cd)"/>
<path d="M341.70 377.90L352.33 369.37L362.97 360.83L373.60 352.30L384.23 343.77L394.87 335.23L405.50 326.70" stroke="#3880EA" stroke-width="1.15" fill="none" stroke-linejoin="round" clip-path="url(#cd)"/>
<path d="M341.70 377.90L347.02 364.40L352.33 350.90L357.65 337.40L362.97 323.90L368.28 310.40L373.60 296.90" stroke="#42B87A" stroke-width="1.2" fill="none" stroke-linejoin="round" clip-path="url(#cd)"/>
<path d="M341.70 377.90L346.90 364.80L352.10 351.70L357.30 338.60L362.50 325.50L367.70 312.40L372.90 299.30" stroke="#42B87A" stroke-width="1.2" fill="none" stroke-linejoin="round" clip-path="url(#cd)"/>
<path d="M341.70 377.90L344.85 354.73L348.00 331.57L351.15 308.40L354.30 285.23L357.45 262.07L360.60 238.90" stroke="#BA86EA" stroke-width="1.1" fill="none" stroke-linejoin="round" clip-path="url(#cd)"/>
<path d="M341.70 377.90L344.77 355.73L347.83 333.57L350.90 311.40L353.97 289.23L357.03 267.07L360.10 244.90" stroke="#BA86EA" stroke-width="1.1" fill="none" stroke-linejoin="round" clip-path="url(#cd)"/>
<path d="M341.70 377.90L350.66 209.90" stroke="#DCA61C" stroke-width="1.2" fill="none" stroke-linejoin="round" clip-path="url(#cd)"/>
<path d="M341.70 377.90L351.11 209.90" stroke="#DCA61C" stroke-width="1.2" fill="none" stroke-linejoin="round" clip-path="url(#cd)"/>
<path d="M341.70 377.90L344.72 209.90" stroke="#20D6D8" stroke-width="1.1" fill="none" stroke-linejoin="round" clip-path="url(#cd)"/>
<path d="M341.70 377.90L345.06 209.90" stroke="#20D6D8" stroke-width="1.1" fill="none" stroke-linejoin="round" clip-path="url(#cd)"/>
<path d="M341.70 377.90L341.92 209.90" stroke="#FC7E30" stroke-width="0.8" fill="none" stroke-linejoin="round" clip-path="url(#cd)"/>
<path d="M341.70 377.90L342.37 209.90" stroke="#9E9E22" stroke-width="0.8" fill="none" stroke-linejoin="round" clip-path="url(#cd)"/>
<path d="M341.70 377.90L342.82 209.90" stroke="#946C6C" stroke-width="0.9" fill="none" stroke-linejoin="round" clip-path="url(#cd)"/>
<circle cx="392.42" cy="377.00" r="1.2" fill="#fff" fill-opacity="0.95" stroke="#8a8a8a" stroke-opacity="0.8" stroke-width="0.5"/>
<circle cx="408.42" cy="376.88" r="1.2" fill="#fff" fill-opacity="0.95" stroke="#8a8a8a" stroke-opacity="0.8" stroke-width="0.5"/>
<circle cx="424.42" cy="376.75" r="1.2" fill="#fff" fill-opacity="0.95" stroke="#8a8a8a" stroke-opacity="0.8" stroke-width="0.5"/>
<circle cx="440.42" cy="376.63" r="1.2" fill="#fff" fill-opacity="0.95" stroke="#8a8a8a" stroke-opacity="0.8" stroke-width="0.5"/>
<circle cx="456.42" cy="376.50" r="1.2" fill="#fff" fill-opacity="0.95" stroke="#8a8a8a" stroke-opacity="0.8" stroke-width="0.5"/>
<circle cx="472.42" cy="376.38" r="1.2" fill="#fff" fill-opacity="0.95" stroke="#8a8a8a" stroke-opacity="0.8" stroke-width="0.5"/>
<circle cx="488.42" cy="376.25" r="1.2" fill="#fff" fill-opacity="0.95" stroke="#8a8a8a" stroke-opacity="0.8" stroke-width="0.5"/>
<circle cx="504.42" cy="376.13" r="1.2" fill="#fff" fill-opacity="0.95" stroke="#8a8a8a" stroke-opacity="0.8" stroke-width="0.5"/>
<circle cx="520.42" cy="376.00" r="1.2" fill="#fff" fill-opacity="0.95" stroke="#8a8a8a" stroke-opacity="0.8" stroke-width="0.5"/>
<path d="M414.98 375.76L416.18 378.04H413.78Z" fill="#fff" fill-opacity="0.95" stroke="#8a8a8a" stroke-opacity="0.8" stroke-width="0.5"/>
<path d="M430.98 375.67L432.18 377.95H429.78Z" fill="#fff" fill-opacity="0.95" stroke="#8a8a8a" stroke-opacity="0.8" stroke-width="0.5"/>
<path d="M446.98 375.58L448.18 377.86H445.78Z" fill="#fff" fill-opacity="0.95" stroke="#8a8a8a" stroke-opacity="0.8" stroke-width="0.5"/>
<path d="M462.98 375.49L464.18 377.77H461.78Z" fill="#fff" fill-opacity="0.95" stroke="#8a8a8a" stroke-opacity="0.8" stroke-width="0.5"/>
<path d="M478.98 375.39L480.18 377.67H477.78Z" fill="#fff" fill-opacity="0.95" stroke="#8a8a8a" stroke-opacity="0.8" stroke-width="0.5"/>
<path d="M494.98 375.30L496.18 377.58H493.78Z" fill="#fff" fill-opacity="0.95" stroke="#8a8a8a" stroke-opacity="0.8" stroke-width="0.5"/>
<path d="M510.98 375.21L512.18 377.49H509.78Z" fill="#fff" fill-opacity="0.95" stroke="#8a8a8a" stroke-opacity="0.8" stroke-width="0.5"/>
<path d="M526.98 375.12L528.18 377.40H525.78Z" fill="#fff" fill-opacity="0.95" stroke="#8a8a8a" stroke-opacity="0.8" stroke-width="0.5"/>
<circle cx="360.81" cy="374.36" r="1.2" fill="#fff" fill-opacity="0.95" stroke="#8a8a8a" stroke-opacity="0.8" stroke-width="0.5"/>
<circle cx="379.91" cy="370.82" r="1.2" fill="#fff" fill-opacity="0.95" stroke="#8a8a8a" stroke-opacity="0.8" stroke-width="0.5"/>
<circle cx="399.02" cy="367.28" r="1.2" fill="#fff" fill-opacity="0.95" stroke="#8a8a8a" stroke-opacity="0.8" stroke-width="0.5"/>
<circle cx="418.09" cy="363.57" r="1.2" fill="#fff" fill-opacity="0.95" stroke="#8a8a8a" stroke-opacity="0.8" stroke-width="0.5"/>
<circle cx="437.20" cy="360.07" r="1.2" fill="#fff" fill-opacity="0.95" stroke="#8a8a8a" stroke-opacity="0.8" stroke-width="0.5"/>
<circle cx="456.48" cy="357.61" r="1.2" fill="#fff" fill-opacity="0.95" stroke="#8a8a8a" stroke-opacity="0.8" stroke-width="0.5"/>
<circle cx="475.70" cy="354.82" r="1.2" fill="#fff" fill-opacity="0.95" stroke="#8a8a8a" stroke-opacity="0.8" stroke-width="0.5"/>
<circle cx="494.90" cy="351.80" r="1.2" fill="#fff" fill-opacity="0.95" stroke="#8a8a8a" stroke-opacity="0.8" stroke-width="0.5"/>
<path d="M361.51 372.98L362.71 375.26H360.31Z" fill="#fff" fill-opacity="0.95" stroke="#8a8a8a" stroke-opacity="0.8" stroke-width="0.5"/>
<path d="M381.32 369.38L382.52 371.66H380.12Z" fill="#fff" fill-opacity="0.95" stroke="#8a8a8a" stroke-opacity="0.8" stroke-width="0.5"/>
<path d="M401.13 365.77L402.33 368.05H399.93Z" fill="#fff" fill-opacity="0.95" stroke="#8a8a8a" stroke-opacity="0.8" stroke-width="0.5"/>
<path d="M420.92 362.02L422.12 364.30H419.72Z" fill="#fff" fill-opacity="0.95" stroke="#8a8a8a" stroke-opacity="0.8" stroke-width="0.5"/>
<path d="M440.77 358.67L441.97 360.95H439.57Z" fill="#fff" fill-opacity="0.95" stroke="#8a8a8a" stroke-opacity="0.8" stroke-width="0.5"/>
<path d="M460.73 356.06L461.93 358.34H459.53Z" fill="#fff" fill-opacity="0.95" stroke="#8a8a8a" stroke-opacity="0.8" stroke-width="0.5"/>
<path d="M480.32 351.61L481.52 353.89H479.12Z" fill="#fff" fill-opacity="0.95" stroke="#8a8a8a" stroke-opacity="0.8" stroke-width="0.5"/>
<path d="M497.70 341.58L498.90 343.86H496.50Z" fill="#fff" fill-opacity="0.95" stroke="#8a8a8a" stroke-opacity="0.8" stroke-width="0.5"/>
<circle cx="349.67" cy="371.25" r="1.2" fill="#fff" fill-opacity="0.95" stroke="#8a8a8a" stroke-opacity="0.8" stroke-width="0.5"/>
<circle cx="357.65" cy="364.60" r="1.2" fill="#fff" fill-opacity="0.95" stroke="#8a8a8a" stroke-opacity="0.8" stroke-width="0.5"/>
<circle cx="365.62" cy="357.95" r="1.2" fill="#fff" fill-opacity="0.95" stroke="#8a8a8a" stroke-opacity="0.8" stroke-width="0.5"/>
<circle cx="373.60" cy="351.30" r="1.2" fill="#fff" fill-opacity="0.95" stroke="#8a8a8a" stroke-opacity="0.8" stroke-width="0.5"/>
<circle cx="381.57" cy="344.65" r="1.2" fill="#fff" fill-opacity="0.95" stroke="#8a8a8a" stroke-opacity="0.8" stroke-width="0.5"/>
<circle cx="389.55" cy="338.00" r="1.2" fill="#fff" fill-opacity="0.95" stroke="#8a8a8a" stroke-opacity="0.8" stroke-width="0.5"/>
<circle cx="397.52" cy="331.35" r="1.2" fill="#fff" fill-opacity="0.95" stroke="#8a8a8a" stroke-opacity="0.8" stroke-width="0.5"/>
<circle cx="405.50" cy="324.70" r="1.2" fill="#fff" fill-opacity="0.95" stroke="#8a8a8a" stroke-opacity="0.8" stroke-width="0.5"/>
<path d="M349.67 370.18L350.87 372.46H348.47Z" fill="#fff" fill-opacity="0.95" stroke="#8a8a8a" stroke-opacity="0.8" stroke-width="0.5"/>
<path d="M357.65 363.78L358.85 366.06H356.45Z" fill="#fff" fill-opacity="0.95" stroke="#8a8a8a" stroke-opacity="0.8" stroke-width="0.5"/>
<path d="M365.62 357.38L366.82 359.66H364.43Z" fill="#fff" fill-opacity="0.95" stroke="#8a8a8a" stroke-opacity="0.8" stroke-width="0.5"/>
<path d="M373.60 350.98L374.80 353.26H372.40Z" fill="#fff" fill-opacity="0.95" stroke="#8a8a8a" stroke-opacity="0.8" stroke-width="0.5"/>
<path d="M381.57 344.58L382.77 346.86H380.38Z" fill="#fff" fill-opacity="0.95" stroke="#8a8a8a" stroke-opacity="0.8" stroke-width="0.5"/>
<path d="M389.55 338.18L390.75 340.46H388.35Z" fill="#fff" fill-opacity="0.95" stroke="#8a8a8a" stroke-opacity="0.8" stroke-width="0.5"/>
<path d="M397.52 331.78L398.72 334.06H396.32Z" fill="#fff" fill-opacity="0.95" stroke="#8a8a8a" stroke-opacity="0.8" stroke-width="0.5"/>
<path d="M405.50 325.38L406.70 327.66H404.30Z" fill="#fff" fill-opacity="0.95" stroke="#8a8a8a" stroke-opacity="0.8" stroke-width="0.5"/>
<circle cx="346.26" cy="366.33" r="1.2" fill="#fff" fill-opacity="0.95" stroke="#8a8a8a" stroke-opacity="0.8" stroke-width="0.5"/>
<circle cx="350.81" cy="354.76" r="1.2" fill="#fff" fill-opacity="0.95" stroke="#8a8a8a" stroke-opacity="0.8" stroke-width="0.5"/>
<circle cx="355.37" cy="343.19" r="1.2" fill="#fff" fill-opacity="0.95" stroke="#8a8a8a" stroke-opacity="0.8" stroke-width="0.5"/>
<circle cx="359.93" cy="331.61" r="1.2" fill="#fff" fill-opacity="0.95" stroke="#8a8a8a" stroke-opacity="0.8" stroke-width="0.5"/>
<circle cx="364.49" cy="320.04" r="1.2" fill="#fff" fill-opacity="0.95" stroke="#8a8a8a" stroke-opacity="0.8" stroke-width="0.5"/>
<circle cx="369.04" cy="308.47" r="1.2" fill="#fff" fill-opacity="0.95" stroke="#8a8a8a" stroke-opacity="0.8" stroke-width="0.5"/>
<circle cx="373.60" cy="296.90" r="1.2" fill="#fff" fill-opacity="0.95" stroke="#8a8a8a" stroke-opacity="0.8" stroke-width="0.5"/>
<path d="M346.16 365.35L347.36 367.63H344.96Z" fill="#fff" fill-opacity="0.95" stroke="#8a8a8a" stroke-opacity="0.8" stroke-width="0.5"/>
<path d="M350.61 354.12L351.81 356.40H349.41Z" fill="#fff" fill-opacity="0.95" stroke="#8a8a8a" stroke-opacity="0.8" stroke-width="0.5"/>
<path d="M355.07 342.89L356.27 345.17H353.87Z" fill="#fff" fill-opacity="0.95" stroke="#8a8a8a" stroke-opacity="0.8" stroke-width="0.5"/>
<path d="M359.53 331.67L360.73 333.95H358.33Z" fill="#fff" fill-opacity="0.95" stroke="#8a8a8a" stroke-opacity="0.8" stroke-width="0.5"/>
<path d="M363.99 320.44L365.19 322.72H362.79Z" fill="#fff" fill-opacity="0.95" stroke="#8a8a8a" stroke-opacity="0.8" stroke-width="0.5"/>
<path d="M368.44 309.21L369.64 311.49H367.24Z" fill="#fff" fill-opacity="0.95" stroke="#8a8a8a" stroke-opacity="0.8" stroke-width="0.5"/>
<path d="M372.90 297.98L374.10 300.26H371.70Z" fill="#fff" fill-opacity="0.95" stroke="#8a8a8a" stroke-opacity="0.8" stroke-width="0.5"/>
<circle cx="344.40" cy="358.04" r="1.2" fill="#fff" fill-opacity="0.95" stroke="#8a8a8a" stroke-opacity="0.8" stroke-width="0.5"/>
<circle cx="347.10" cy="338.19" r="1.2" fill="#fff" fill-opacity="0.95" stroke="#8a8a8a" stroke-opacity="0.8" stroke-width="0.5"/>
<circle cx="349.80" cy="318.33" r="1.2" fill="#fff" fill-opacity="0.95" stroke="#8a8a8a" stroke-opacity="0.8" stroke-width="0.5"/>
<circle cx="352.50" cy="298.47" r="1.2" fill="#fff" fill-opacity="0.95" stroke="#8a8a8a" stroke-opacity="0.8" stroke-width="0.5"/>
<circle cx="355.20" cy="278.61" r="1.2" fill="#fff" fill-opacity="0.95" stroke="#8a8a8a" stroke-opacity="0.8" stroke-width="0.5"/>
<circle cx="357.90" cy="258.76" r="1.2" fill="#fff" fill-opacity="0.95" stroke="#8a8a8a" stroke-opacity="0.8" stroke-width="0.5"/>
<circle cx="360.60" cy="238.90" r="1.2" fill="#fff" fill-opacity="0.95" stroke="#8a8a8a" stroke-opacity="0.8" stroke-width="0.5"/>
<path d="M344.33 357.58L345.53 359.86H343.13Z" fill="#fff" fill-opacity="0.95" stroke="#8a8a8a" stroke-opacity="0.8" stroke-width="0.5"/>
<path d="M346.96 338.58L348.16 340.86H345.76Z" fill="#fff" fill-opacity="0.95" stroke="#8a8a8a" stroke-opacity="0.8" stroke-width="0.5"/>
<path d="M349.59 319.58L350.79 321.86H348.39Z" fill="#fff" fill-opacity="0.95" stroke="#8a8a8a" stroke-opacity="0.8" stroke-width="0.5"/>
<path d="M352.21 300.58L353.41 302.86H351.01Z" fill="#fff" fill-opacity="0.95" stroke="#8a8a8a" stroke-opacity="0.8" stroke-width="0.5"/>
<path d="M354.84 281.58L356.04 283.86H353.64Z" fill="#fff" fill-opacity="0.95" stroke="#8a8a8a" stroke-opacity="0.8" stroke-width="0.5"/>
<path d="M357.47 262.58L358.67 264.86H356.27Z" fill="#fff" fill-opacity="0.95" stroke="#8a8a8a" stroke-opacity="0.8" stroke-width="0.5"/>
<path d="M360.10 243.58L361.30 245.86H358.90Z" fill="#fff" fill-opacity="0.95" stroke="#8a8a8a" stroke-opacity="0.8" stroke-width="0.5"/>
<circle cx="342.49" cy="363.02" r="1.2" fill="#fff" fill-opacity="0.95" stroke="#8a8a8a" stroke-opacity="0.8" stroke-width="0.5"/>
<circle cx="343.77" cy="339.02" r="1.2" fill="#fff" fill-opacity="0.95" stroke="#8a8a8a" stroke-opacity="0.8" stroke-width="0.5"/>
<circle cx="345.05" cy="315.02" r="1.2" fill="#fff" fill-opacity="0.95" stroke="#8a8a8a" stroke-opacity="0.8" stroke-width="0.5"/>
<circle cx="346.33" cy="291.02" r="1.2" fill="#fff" fill-opacity="0.95" stroke="#8a8a8a" stroke-opacity="0.8" stroke-width="0.5"/>
<circle cx="347.61" cy="267.02" r="1.2" fill="#fff" fill-opacity="0.95" stroke="#8a8a8a" stroke-opacity="0.8" stroke-width="0.5"/>
<circle cx="348.89" cy="243.02" r="1.2" fill="#fff" fill-opacity="0.95" stroke="#8a8a8a" stroke-opacity="0.8" stroke-width="0.5"/>
<path d="M343.08 351.86L344.28 354.14H341.88Z" fill="#fff" fill-opacity="0.95" stroke="#8a8a8a" stroke-opacity="0.8" stroke-width="0.5"/>
<path d="M344.43 327.86L345.63 330.14H343.23Z" fill="#fff" fill-opacity="0.95" stroke="#8a8a8a" stroke-opacity="0.8" stroke-width="0.5"/>
<path d="M345.77 303.86L346.97 306.14H344.57Z" fill="#fff" fill-opacity="0.95" stroke="#8a8a8a" stroke-opacity="0.8" stroke-width="0.5"/>
<path d="M347.12 279.86L348.32 282.14H345.92Z" fill="#fff" fill-opacity="0.95" stroke="#8a8a8a" stroke-opacity="0.8" stroke-width="0.5"/>
<path d="M348.46 255.86L349.66 258.14H347.26Z" fill="#fff" fill-opacity="0.95" stroke="#8a8a8a" stroke-opacity="0.8" stroke-width="0.5"/>
<path d="M349.80 231.86L351.00 234.14H348.60Z" fill="#fff" fill-opacity="0.95" stroke="#8a8a8a" stroke-opacity="0.8" stroke-width="0.5"/>
<circle cx="342.53" cy="332.06" r="1.2" fill="#fff" fill-opacity="0.95" stroke="#8a8a8a" stroke-opacity="0.8" stroke-width="0.5"/>
<circle cx="342.96" cy="308.06" r="1.2" fill="#fff" fill-opacity="0.95" stroke="#8a8a8a" stroke-opacity="0.8" stroke-width="0.5"/>
<circle cx="343.39" cy="284.06" r="1.2" fill="#fff" fill-opacity="0.95" stroke="#8a8a8a" stroke-opacity="0.8" stroke-width="0.5"/>
<circle cx="343.82" cy="260.06" r="1.2" fill="#fff" fill-opacity="0.95" stroke="#8a8a8a" stroke-opacity="0.8" stroke-width="0.5"/>
<circle cx="344.25" cy="236.06" r="1.2" fill="#fff" fill-opacity="0.95" stroke="#8a8a8a" stroke-opacity="0.8" stroke-width="0.5"/>
<path d="M342.81 320.90L344.01 323.18H341.61Z" fill="#fff" fill-opacity="0.95" stroke="#8a8a8a" stroke-opacity="0.8" stroke-width="0.5"/>
<path d="M343.29 296.90L344.49 299.18H342.09Z" fill="#fff" fill-opacity="0.95" stroke="#8a8a8a" stroke-opacity="0.8" stroke-width="0.5"/>
<path d="M343.77 272.90L344.97 275.18H342.57Z" fill="#fff" fill-opacity="0.95" stroke="#8a8a8a" stroke-opacity="0.8" stroke-width="0.5"/>
<path d="M344.25 248.90L345.45 251.18H343.05Z" fill="#fff" fill-opacity="0.95" stroke="#8a8a8a" stroke-opacity="0.8" stroke-width="0.5"/>
<circle cx="342.46" cy="263.18" r="1.2" fill="#fff" fill-opacity="0.95" stroke="#8a8a8a" stroke-opacity="0.8" stroke-width="0.5"/>
<circle cx="342.62" cy="239.18" r="1.2" fill="#fff" fill-opacity="0.95" stroke="#8a8a8a" stroke-opacity="0.8" stroke-width="0.5"/>
<path d="M373.60 377.90v-2.4M373.60 227.90v2.4M405.50 377.90v-2.4M405.50 227.90v2.4M437.40 377.90v-2.4M437.40 227.90v2.4M469.30 377.90v-2.4M469.30 227.90v2.4M501.20 377.90v-2.4M501.20 227.90v2.4M341.60 352.90h2.4M533.70 352.90h-2.4M341.60 327.90h2.4M533.70 327.90h-2.4M341.60 302.90h2.4M533.70 302.90h-2.4M341.60 277.90h2.4M533.70 277.90h-2.4M341.60 252.90h2.4M533.70 252.90h-2.4" stroke="#444" stroke-width="0.8" fill="none"/>
<rect x="341.60" y="227.90" width="192.10" height="150.00" fill="none" stroke="#4c4c4c" stroke-width="1.1"/>
<path d="M341.6 228.50V377.30" stroke="#5c3e34" stroke-width="1.4" stroke-opacity="0.95"/>
<rect x="457.40" y="231.40" width="73.40" height="116.70" fill="#fff" stroke="#8e8e8e" stroke-width="0.9"/>
<text x="472.90" y="243.70" font-size="8.6" fill="#222" text-anchor="middle" stroke="#222" stroke-width="0.2">(#)</text>
<text x="498.00" y="243.70" font-size="8.6" fill="#222" text-anchor="middle" stroke="#222" stroke-width="0.2">(*)</text>
<path d="M464.10 250.40H482.50M488.40 250.40H507.20" stroke="#545454" stroke-width="1.05" fill="none"/>
<circle cx="473.30" cy="250.40" r="1.35" fill="#fff" fill-opacity="1.0" stroke="#8a8a8a" stroke-opacity="0.9" stroke-width="0.55"/>
<path d="M497.80 248.86L499.20 251.52H496.40Z" fill="#fff" fill-opacity="1.0" stroke="#8a8a8a" stroke-opacity="0.9" stroke-width="0.55"/>
<text x="510.50" y="253.60" font-size="10.2" fill="#1c1c1c" stroke="#1c1c1c" stroke-width="0.22" textLength="15.8" lengthAdjust="spacingAndGlyphs"><tspan font-style="italic">l</tspan> = 1</text>
<path d="M464.10 260.56H482.50M488.40 260.56H507.20" stroke="#F44A4A" stroke-width="1.05" fill="none"/>
<circle cx="473.30" cy="260.56" r="1.35" fill="#fff" fill-opacity="1.0" stroke="#8a8a8a" stroke-opacity="0.9" stroke-width="0.55"/>
<path d="M497.80 259.02L499.20 261.68H496.40Z" fill="#fff" fill-opacity="1.0" stroke="#8a8a8a" stroke-opacity="0.9" stroke-width="0.55"/>
<text x="510.50" y="263.76" font-size="10.2" fill="#1c1c1c" stroke="#1c1c1c" stroke-width="0.22" textLength="15.8" lengthAdjust="spacingAndGlyphs"><tspan font-style="italic">l</tspan> = 3</text>
<path d="M464.10 270.72H482.50M488.40 270.72H507.20" stroke="#3880EA" stroke-width="1.05" fill="none"/>
<circle cx="473.30" cy="270.72" r="1.35" fill="#fff" fill-opacity="1.0" stroke="#8a8a8a" stroke-opacity="0.9" stroke-width="0.55"/>
<path d="M497.80 269.18L499.20 271.84H496.40Z" fill="#fff" fill-opacity="1.0" stroke="#8a8a8a" stroke-opacity="0.9" stroke-width="0.55"/>
<text x="510.50" y="273.92" font-size="10.2" fill="#1c1c1c" stroke="#1c1c1c" stroke-width="0.22" textLength="15.8" lengthAdjust="spacingAndGlyphs"><tspan font-style="italic">l</tspan> = 5</text>
<path d="M464.10 280.88H482.50M488.40 280.88H507.20" stroke="#42B87A" stroke-width="1.05" fill="none"/>
<circle cx="473.30" cy="280.88" r="1.35" fill="#fff" fill-opacity="1.0" stroke="#8a8a8a" stroke-opacity="0.9" stroke-width="0.55"/>
<path d="M497.80 279.34L499.20 282.00H496.40Z" fill="#fff" fill-opacity="1.0" stroke="#8a8a8a" stroke-opacity="0.9" stroke-width="0.55"/>
<text x="510.50" y="284.08" font-size="10.2" fill="#1c1c1c" stroke="#1c1c1c" stroke-width="0.22" textLength="15.8" lengthAdjust="spacingAndGlyphs"><tspan font-style="italic">l</tspan> = 7</text>
<path d="M464.10 291.04H482.50M488.40 291.04H507.20" stroke="#BA86EA" stroke-width="1.05" fill="none"/>
<circle cx="473.30" cy="291.04" r="1.35" fill="#fff" fill-opacity="1.0" stroke="#8a8a8a" stroke-opacity="0.9" stroke-width="0.55"/>
<path d="M497.80 289.50L499.20 292.16H496.40Z" fill="#fff" fill-opacity="1.0" stroke="#8a8a8a" stroke-opacity="0.9" stroke-width="0.55"/>
<text x="510.50" y="294.24" font-size="10.2" fill="#1c1c1c" stroke="#1c1c1c" stroke-width="0.22" textLength="15.8" lengthAdjust="spacingAndGlyphs"><tspan font-style="italic">l</tspan> = 9</text>
<path d="M464.10 301.20H482.50M488.40 301.20H507.20" stroke="#DCA61C" stroke-width="1.05" fill="none"/>
<circle cx="473.30" cy="301.20" r="1.35" fill="#fff" fill-opacity="1.0" stroke="#8a8a8a" stroke-opacity="0.9" stroke-width="0.55"/>
<path d="M497.80 299.66L499.20 302.32H496.40Z" fill="#fff" fill-opacity="1.0" stroke="#8a8a8a" stroke-opacity="0.9" stroke-width="0.55"/>
<text x="508.50" y="304.40" font-size="10.2" fill="#1c1c1c" stroke="#1c1c1c" stroke-width="0.22" textLength="20.0" lengthAdjust="spacingAndGlyphs"><tspan font-style="italic">l</tspan> = 11</text>
<path d="M464.10 311.36H482.50M488.40 311.36H507.20" stroke="#20D6D8" stroke-width="1.05" fill="none"/>
<circle cx="473.30" cy="311.36" r="1.35" fill="#fff" fill-opacity="1.0" stroke="#8a8a8a" stroke-opacity="0.9" stroke-width="0.55"/>
<path d="M497.80 309.82L499.20 312.48H496.40Z" fill="#fff" fill-opacity="1.0" stroke="#8a8a8a" stroke-opacity="0.9" stroke-width="0.55"/>
<text x="508.50" y="314.56" font-size="10.2" fill="#1c1c1c" stroke="#1c1c1c" stroke-width="0.22" textLength="20.0" lengthAdjust="spacingAndGlyphs"><tspan font-style="italic">l</tspan> = 13</text>
<path d="M464.10 321.52H482.50M488.40 321.52H507.20" stroke="#946C6C" stroke-width="1.05" fill="none"/>
<circle cx="473.30" cy="321.52" r="1.35" fill="#fff" fill-opacity="1.0" stroke="#8a8a8a" stroke-opacity="0.9" stroke-width="0.55"/>
<path d="M497.80 319.98L499.20 322.64H496.40Z" fill="#fff" fill-opacity="1.0" stroke="#8a8a8a" stroke-opacity="0.9" stroke-width="0.55"/>
<text x="508.50" y="324.72" font-size="10.2" fill="#1c1c1c" stroke="#1c1c1c" stroke-width="0.22" textLength="20.0" lengthAdjust="spacingAndGlyphs"><tspan font-style="italic">l</tspan> = 15</text>
<path d="M464.10 331.68H482.50M488.40 331.68H507.20" stroke="#9E9E22" stroke-width="1.05" fill="none"/>
<circle cx="473.30" cy="331.68" r="1.35" fill="#fff" fill-opacity="1.0" stroke="#8a8a8a" stroke-opacity="0.9" stroke-width="0.55"/>
<path d="M497.80 330.14L499.20 332.80H496.40Z" fill="#fff" fill-opacity="1.0" stroke="#8a8a8a" stroke-opacity="0.9" stroke-width="0.55"/>
<text x="508.50" y="334.88" font-size="10.2" fill="#1c1c1c" stroke="#1c1c1c" stroke-width="0.22" textLength="20.0" lengthAdjust="spacingAndGlyphs"><tspan font-style="italic">l</tspan> = 17</text>
<path d="M464.10 341.84H482.50M488.40 341.84H507.20" stroke="#FC7E30" stroke-width="1.05" fill="none"/>
<circle cx="473.30" cy="341.84" r="1.35" fill="#fff" fill-opacity="1.0" stroke="#8a8a8a" stroke-opacity="0.9" stroke-width="0.55"/>
<path d="M497.80 340.30L499.20 342.96H496.40Z" fill="#fff" fill-opacity="1.0" stroke="#8a8a8a" stroke-opacity="0.9" stroke-width="0.55"/>
<text x="508.50" y="345.04" font-size="10.2" fill="#1c1c1c" stroke="#1c1c1c" stroke-width="0.22" textLength="20.0" lengthAdjust="spacingAndGlyphs"><tspan font-style="italic">l</tspan> = 19</text>
<text x="327.60" y="234.60" font-size="14" fill="#161616" textLength="6.40" lengthAdjust="spacingAndGlyphs" stroke="#161616" stroke-width="0.15">3</text>
<text x="327.60" y="283.00" font-size="14" fill="#161616" textLength="6.80" lengthAdjust="spacingAndGlyphs" stroke="#161616" stroke-width="0.15">2</text>
<text x="328.00" y="332.20" font-size="14" fill="#161616" textLength="4.60" lengthAdjust="spacingAndGlyphs" stroke="#161616" stroke-width="0.15">1</text>
<text x="327.20" y="380.40" font-size="14" fill="#161616" textLength="7.00" lengthAdjust="spacingAndGlyphs" stroke="#161616" stroke-width="0.15">0</text>
<text x="339.80" y="392.50" font-size="14" fill="#161616" textLength="11.40" lengthAdjust="spacingAndGlyphs" stroke="#161616" stroke-width="0.15">0°</text>
<text x="399.00" y="392.50" font-size="14" fill="#161616" textLength="18.00" lengthAdjust="spacingAndGlyphs" stroke="#161616" stroke-width="0.15">10°</text>
<text x="464.90" y="392.50" font-size="14" fill="#161616" textLength="17.90" lengthAdjust="spacingAndGlyphs" stroke="#161616" stroke-width="0.15">20°</text>
<text x="518.80" y="392.50" font-size="14" fill="#161616" textLength="18.20" lengthAdjust="spacingAndGlyphs" stroke="#161616" stroke-width="0.15">30°</text>
<text x="317.0" y="324.4" font-size="14" fill="#161616" stroke="#161616" stroke-width="0.15" transform="rotate(-90 317.0 324.4)" textLength="42.4" lengthAdjust="spacingAndGlyphs"><tspan font-style="italic">T</tspan> (N·m)</text>
<text x="438.60" y="406.00" font-size="15.5" fill="#161616" text-anchor="middle" font-style="italic" stroke="#161616" stroke-width="0.15">θ</text>
<text x="425.40" y="427.60" font-size="12.6" fill="#161616" text-anchor="middle" stroke="#161616" stroke-width="0.12">(<tspan font-weight="bold">d</tspan>)</text>
</svg>
</body></html>
